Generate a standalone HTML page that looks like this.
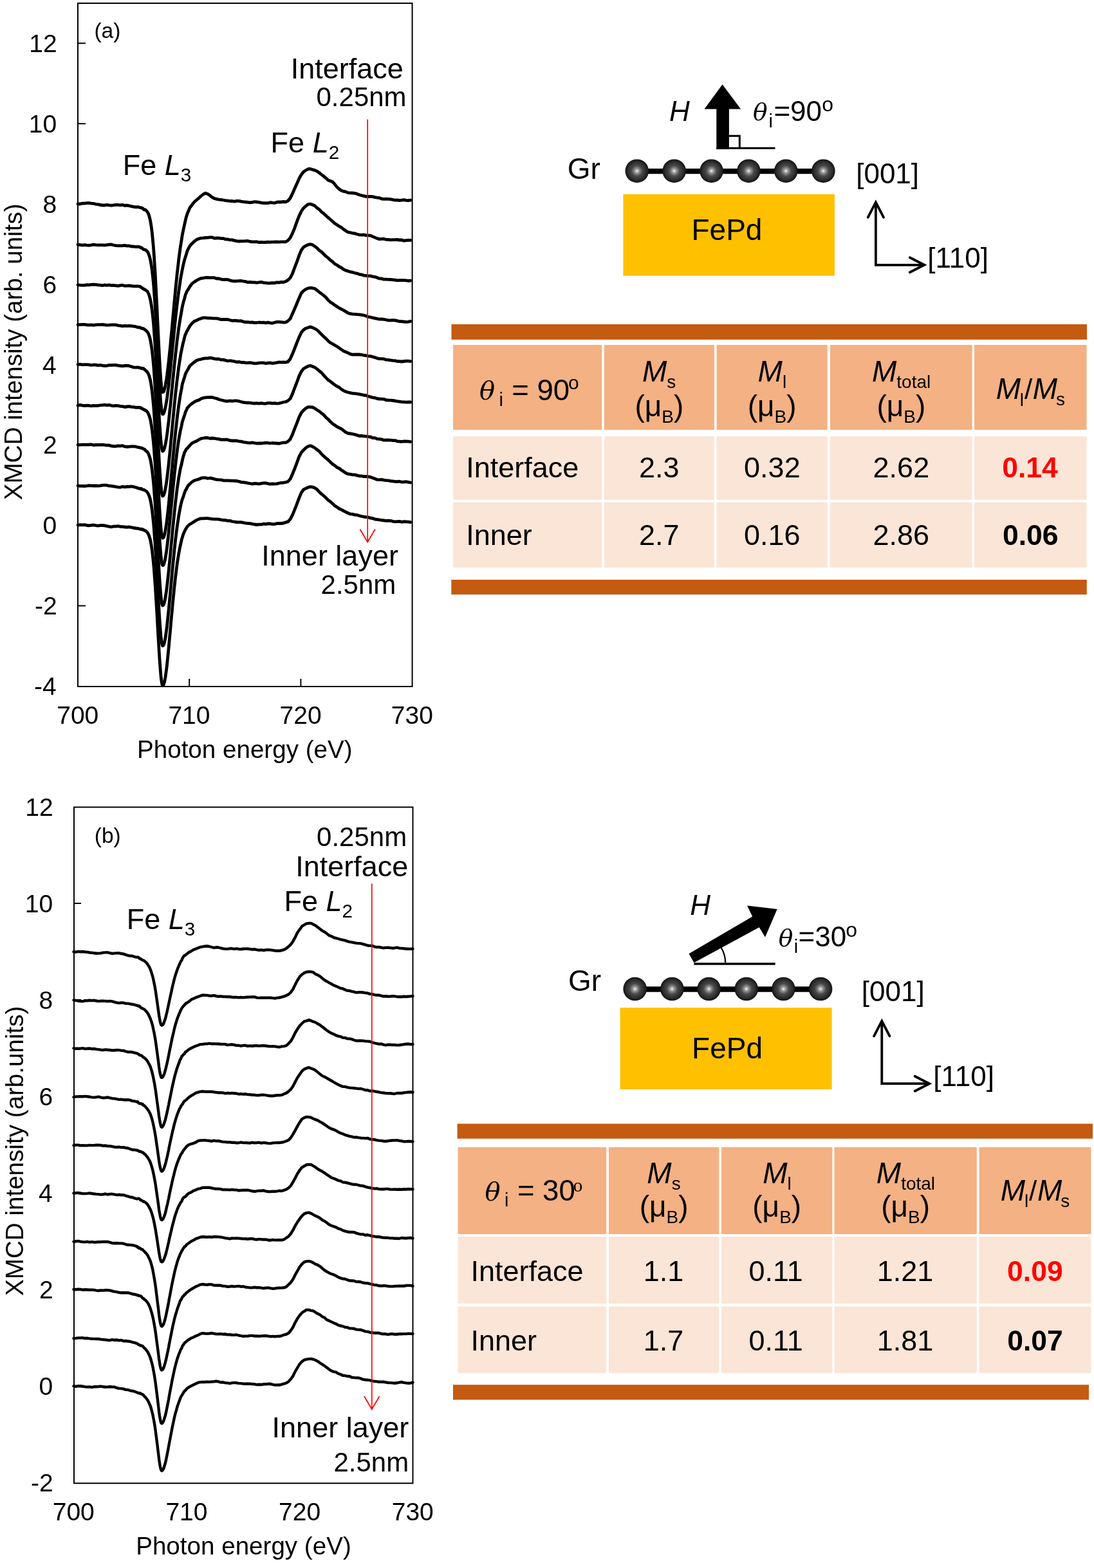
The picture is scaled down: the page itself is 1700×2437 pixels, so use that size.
<!DOCTYPE html><html><head><meta charset="utf-8"><title>XMCD</title><style>html,body{margin:0;padding:0;background:#fff}svg{display:block}</style></head><body>
<svg width="1700" height="2437" viewBox="0 0 1700 2437" font-family="'Liberation Sans', Arial, sans-serif">
<defs><radialGradient id="atom" cx="0.5" cy="0.5" r="0.5"><stop offset="0" stop-color="#f4f4f4"/><stop offset="0.18" stop-color="#9a9a9a"/><stop offset="0.45" stop-color="#4a4a4a"/><stop offset="0.8" stop-color="#2a2a2a"/><stop offset="1" stop-color="#111"/></radialGradient></defs>
<rect width="1700" height="2437" fill="#fff"/>
<g fill="none" stroke="#000" stroke-width="4.8" stroke-linejoin="round" stroke-linecap="round">
<path d="M121,316.9 124.5,317 127.9,316.1 131.4,316.2 134.9,315.6 138.3,315.5 141.8,316.2 145.2,316.3 148.7,317.3 152.2,317.6 155.6,318.5 159.1,319 162.6,319 166,318.3 169.5,318.9 173,319.3 176.4,318.9 179.9,318.3 183.4,318.4 186.8,318.8 190.3,318.4 193.7,319.5 197.2,319.1 200.7,319.8 204.1,320.7 207.6,321.4 211.1,321.9 214.5,321.6 218,322.8 218.9,322.8 219.7,322.8 220.6,323.3 221.5,323.5 222.3,324.5 223.2,325.4 224.1,326 224.9,325.9 225.8,326 226.7,326.8 227.5,327.5 228.4,328.5 229.3,329.8 230.1,331.2 231,333.2 231.8,335.9 232.7,339 233.6,343 234.4,347.6 235.3,353.4 236.2,360.5 237,368.4 237.9,378.1 238.8,388.9 239.6,401 240.5,414.7 241.4,429.5 242.2,445.7 243.1,462.5 244,480.1 244.8,498.1 245.7,516.1 246.6,534 247.4,550.9 248.3,566.5 249.2,580.3 250,591.9 250.9,600.8 251.8,606.6 252.6,609.5 253.5,609.4 254.4,608.4 255.2,606.2 256.1,603.1 257,599 257.8,594.3 258.7,589.1 259.6,583.1 260.4,576.3 261.3,569.2 262.2,561.4 263,553.3 263.9,544.8 264.8,536 265.6,526.6 266.5,517.4 267.4,508.1 268.2,498.6 269.1,488.9 270,479.7 270.8,470.4 271.7,461.2 272.5,452 273.4,443.1 274.3,434.5 275.1,426.5 276,418.6 276.9,411.1 277.7,403.6 278.6,396.5 279.5,390.1 280.3,384 281.2,378.6 282.1,373.2 282.9,367.7 283.8,362.5 284.7,358.2 285.5,354.5 286.4,350.3 287.3,346.5 288.1,342.8 289,338.8 289.9,335.7 290.7,333.2 291.6,330.7 295.1,322.8 298.5,318.2 302,313.8 305.5,310.7 308.9,307.8 312.4,304.8 315.8,302 319.3,300.2 322.8,301.5 326.2,303.7 329.7,306.7 333.2,308.5 336.6,309.4 340.1,310.1 343.6,310.4 347,311 350.5,311.7 354,312 357.4,312.5 360.9,312.5 364.3,313.1 367.8,312.4 371.3,312.4 374.7,313.2 378.2,313.7 381.7,314 385.1,314.3 388.6,314.9 392.1,314.3 395.5,313.7 399,314 402.4,314.3 405.9,315.1 409.4,315.6 412.8,315.6 416.3,315.6 419.8,314.7 423.2,315.1 426.7,315.4 430.2,314.2 433.6,313.8 437.1,314 440.6,313.5 444,313.8 447.5,312.1 450.9,308.1 454.4,301.1 457.9,293 461.3,285.6 464.8,277.5 468.3,271.4 471.7,267.1 475.2,264.8 478.7,262.7 482.1,262.5 485.6,263.6 489.1,264.6 492.5,266.1 496,268.5 499.4,271.2 502.9,273.9 506.4,276.8 509.8,279.9 513.3,281.2 516.8,282.7 520.2,286.4 523.7,290.9 527.2,293.9 530.6,296.2 534.1,297.4 537.5,298.1 541,299.6 544.5,299.9 547.9,300 551.4,300.3 554.9,301.4 558.3,302.7 561.8,303.7 565.3,304.6 568.7,305.4 572.2,305.5 575.7,305.4 579.1,305.6 582.6,306.6 586,307.2 589.5,307.6 593,309 596.4,309.3 599.9,309.2 603.4,309.4 606.8,309.7 610.3,310.3 613.8,311.2 617.2,311 620.7,311.5 624.1,311.2 627.6,310.7 631.1,311.3 634.5,311.7 638,311.2"/>
<path d="M121,380.1 124.5,380.6 127.9,381.1 131.4,380.6 134.9,381.1 138.3,381.3 141.8,380.8 145.2,380.2 148.7,380.7 152.2,380.8 155.6,380.9 159.1,380.8 162.6,381.1 166,380.7 169.5,380.2 173,380 176.4,381 179.9,381.7 183.4,381.9 186.8,381.8 190.3,381.8 193.7,381.3 197.2,382.1 200.7,382.1 204.1,383 207.6,383.1 211.1,383.6 214.5,383.4 218,384.1 218.9,385.2 219.7,385.1 220.6,385.4 221.5,386.3 222.3,387.1 223.2,387.8 224.1,387.9 224.9,388.1 225.8,388.2 226.7,388.9 227.5,389.5 228.4,390.5 229.3,391.3 230.1,392.8 231,394.9 231.8,397.2 232.7,400 233.6,403.5 234.4,408 235.3,413.2 236.2,419.1 237,426.5 237.9,434.8 238.8,444.4 239.6,455.3 240.5,467.7 241.4,481.2 242.2,495.6 243.1,511 244,526.8 244.8,543 245.7,559.4 246.6,575.4 247.4,590.7 248.3,604.9 249.2,617.3 250,627.6 250.9,635.7 251.8,641.2 252.6,643.7 253.5,643.6 254.4,642.2 255.2,640.2 256.1,637.2 257,633.6 257.8,629.3 258.7,624 259.6,618.3 260.4,612.1 261.3,605.3 262.2,597.9 263,590.3 263.9,581.9 264.8,573.5 265.6,565.1 266.5,556.6 267.4,548.1 268.2,539.4 269.1,530.5 270,521.7 270.8,513.3 271.7,504.8 272.5,496.5 273.4,488.4 274.3,480.7 275.1,473.6 276,466.4 276.9,459.5 277.7,453.2 278.6,446.9 279.5,440.8 280.3,435.4 281.2,429.5 282.1,425.2 282.9,420.8 283.8,416.6 284.7,412.3 285.5,408.7 286.4,405 287.3,402.1 288.1,399.6 289,396.7 289.9,393.7 290.7,390.9 291.6,388.6 295.1,382.2 298.5,378.4 302,375.1 305.5,372.5 308.9,371 312.4,370.2 315.8,369.9 319.3,369.5 322.8,369.3 326.2,368.8 329.7,368.9 333.2,370.3 336.6,370 340.1,369.9 343.6,370.7 347,370.6 350.5,371.9 354,372 357.4,372.9 360.9,372.9 364.3,373.9 367.8,374.7 371.3,375 374.7,374.8 378.2,374.8 381.7,374.6 385.1,374.5 388.6,375.5 392.1,375.8 395.5,375.9 399,375.7 402.4,376.6 405.9,376.4 409.4,376.6 412.8,376.5 416.3,376.1 419.8,376.3 423.2,376.1 426.7,376 430.2,375.8 433.6,376.2 437.1,375.9 440.6,375.8 444,375.8 447.5,373.7 450.9,369.7 454.4,362.9 457.9,354.3 461.3,344.6 464.8,335.6 468.3,328.2 471.7,323.4 475.2,320.2 478.7,317.6 482.1,317 485.6,318.2 489.1,319.8 492.5,323.1 496,325.4 499.4,329.1 502.9,331.7 506.4,334.9 509.8,338.2 513.3,341 516.8,344.1 520.2,347.3 523.7,349.4 527.2,351.8 530.6,353.6 534.1,356.5 537.5,358.9 541,360.8 544.5,361.5 547.9,362.3 551.4,362.9 554.9,364 558.3,364.8 561.8,365.1 565.3,364.9 568.7,365.7 572.2,365.8 575.7,366.2 579.1,367.6 582.6,369.1 586,370.5 589.5,371.6 593,371.4 596.4,371.2 599.9,372.3 603.4,372.4 606.8,372.9 610.3,372.7 613.8,372.6 617.2,372.5 620.7,373 624.1,373 627.6,374.1 631.1,373.7 634.5,373.4 638,373.4"/>
<path d="M121,442.8 124.5,443.2 127.9,443.4 131.4,443.4 134.9,442.6 138.3,442.9 141.8,442.3 145.2,442.1 148.7,442.4 152.2,442.8 155.6,443.2 159.1,443.7 162.6,443 166,443.3 169.5,442.9 173,443.7 176.4,443.4 179.9,443.8 183.4,444.4 186.8,443.7 190.3,443.2 193.7,444.3 197.2,444.1 200.7,444 204.1,444.4 207.6,444.9 211.1,444.9 214.5,444.9 218,445.4 218.9,446.5 219.7,446.9 220.6,447.2 221.5,447.8 222.3,449 223.2,449.3 224.1,449.4 224.9,450.1 225.8,450.5 226.7,451.2 227.5,451.7 228.4,452.4 229.3,453.3 230.1,455 231,456.7 231.8,459.1 232.7,462.1 233.6,465.6 234.4,469.9 235.3,475.2 236.2,481 237,488.1 237.9,496.2 238.8,506 239.6,517 240.5,529 241.4,542.1 242.2,556.3 243.1,571 244,586.7 244.8,602.7 245.7,618.6 246.6,634.4 247.4,649.3 248.3,662.9 249.2,675.3 250,685.6 250.9,693.5 251.8,698.8 252.6,701.2 253.5,700.9 254.4,699.5 255.2,697.5 256.1,694.4 257,690.7 257.8,686.4 258.7,681.2 259.6,675 260.4,668.7 261.3,661.6 262.2,654.1 263,646.3 263.9,638.1 264.8,629.8 265.6,621.2 266.5,612.3 267.4,603.5 268.2,594.7 269.1,585.8 270,577.2 270.8,568.7 271.7,560.7 272.5,552.9 273.4,544.9 274.3,537.2 275.1,530 276,523 276.9,516.4 277.7,510.1 278.6,504.2 279.5,498.7 280.3,493.4 281.2,489.2 282.1,483.6 282.9,479.2 283.8,474.4 284.7,471 285.5,467.7 286.4,464.9 287.3,461.6 288.1,458.5 289,456.2 289.9,454 290.7,452.3 291.6,451.1 295.1,445.2 298.5,440.7 302,438.1 305.5,435.9 308.9,434 312.4,432.6 315.8,432.1 319.3,431.5 322.8,431.4 326.2,431.6 329.7,431.6 333.2,431.7 336.6,433 340.1,432.9 343.6,434.1 347,434.6 350.5,434.4 354,434.6 357.4,435.8 360.9,436.6 364.3,437 367.8,436.9 371.3,436.7 374.7,436.5 378.2,437.1 381.7,437.6 385.1,438.7 388.6,438.5 392.1,438.9 395.5,438.9 399,439.3 402.4,438.8 405.9,438.4 409.4,439.3 412.8,439.7 416.3,440.1 419.8,440 423.2,439.7 426.7,439.9 430.2,438.8 433.6,439.1 437.1,438.3 440.6,438.6 444,437.4 447.5,435.4 450.9,431.9 454.4,425.4 457.9,415.8 461.3,407.2 464.8,396.9 468.3,388.7 471.7,384.1 475.2,382 478.7,380.4 482.1,379.7 485.6,380.4 489.1,382.9 492.5,385.4 496,389 499.4,391.3 502.9,394.8 506.4,398.2 509.8,400.8 513.3,404.2 516.8,406.8 520.2,410.1 523.7,412 527.2,414.5 530.6,416.2 534.1,418.8 537.5,420.4 541,421.4 544.5,422.6 547.9,423.2 551.4,424.2 554.9,425.1 558.3,426.3 561.8,426.8 565.3,428.1 568.7,428.4 572.2,428.8 575.7,428.9 579.1,429.9 582.6,430.3 586,431.6 589.5,432.9 593,433 596.4,434.2 599.9,434.2 603.4,434.4 606.8,434.5 610.3,434.8 613.8,435.2 617.2,435.9 620.7,435.6 624.1,435.6 627.6,435.7 631.1,435.9 634.5,436.5 638,436.2"/>
<path d="M121,504.7 124.5,504.7 127.9,504.3 131.4,504.3 134.9,505 138.3,505.1 141.8,504.8 145.2,505.4 148.7,504.9 152.2,504.6 155.6,504.6 159.1,504.5 162.6,504.9 166,505.4 169.5,505.2 173,504.8 176.4,504.9 179.9,504.9 183.4,505.8 186.8,506.1 190.3,506.8 193.7,506.4 197.2,506.6 200.7,506.3 204.1,506.6 207.6,507.2 211.1,507.7 214.5,508.8 218,509 218.9,509.8 219.7,510.4 220.6,510.5 221.5,510.2 222.3,510.9 223.2,510.8 224.1,511.6 224.9,512.6 225.8,512.7 226.7,513.6 227.5,514.4 228.4,515.2 229.3,516.3 230.1,517.5 231,519.5 231.8,521.8 232.7,524.6 233.6,528.4 234.4,532.7 235.3,538.1 236.2,544.2 237,551.4 237.9,560 238.8,569.9 239.6,581.2 240.5,593.5 241.4,606.8 242.2,621.6 243.1,636.8 244,653.1 244.8,669.6 245.7,686 246.6,702 247.4,717.5 248.3,731.7 249.2,744.4 250,754.9 250.9,763.1 251.8,768.4 252.6,771 253.5,770.7 254.4,769.6 255.2,767.1 256.1,764 257,759.7 257.8,755.1 258.7,749.5 259.6,743.2 260.4,736 261.3,728.6 262.2,720.7 263,712.3 263.9,703.8 264.8,694.8 265.6,685.6 266.5,676.4 267.4,667 268.2,658 269.1,648.9 270,639.7 270.8,630.8 271.7,622.3 272.5,614.1 273.4,606.1 274.3,598.4 275.1,591 276,584.1 276.9,577.3 277.7,570.8 278.6,564.9 279.5,559.3 280.3,554 281.2,548.4 282.1,544.6 282.9,540.4 283.8,536.4 284.7,532.4 285.5,529.6 286.4,525.7 287.3,522.4 288.1,519.8 289,518.2 289.9,515.9 290.7,514.5 291.6,512.8 295.1,506.5 298.5,502.5 302,499.3 305.5,497.9 308.9,496.2 312.4,494.9 315.8,493.9 319.3,493.9 322.8,494.4 326.2,494.4 329.7,494.7 333.2,494.8 336.6,494.9 340.1,495.6 343.6,496.7 347,496.5 350.5,496.4 354,496.5 357.4,497.5 360.9,498.5 364.3,498.1 367.8,498.5 371.3,498.9 374.7,498.7 378.2,500.1 381.7,500.7 385.1,500.6 388.6,501.2 392.1,500.9 395.5,501.7 399,501.5 402.4,501 405.9,501.3 409.4,501.2 412.8,501.8 416.3,501.2 419.8,501.8 423.2,502.3 426.7,501.3 430.2,500.4 433.6,500.4 437.1,500.7 440.6,501.1 444,500.9 447.5,498.9 450.9,495.5 454.4,487.8 457.9,479.7 461.3,471.8 464.8,463.2 468.3,455.5 471.7,451.9 475.2,449.6 478.7,448 482.1,447.4 485.6,447.7 489.1,448.6 492.5,450.9 496,454 499.4,456.4 502.9,459.2 506.4,462.1 509.8,466.2 513.3,469.6 516.8,471.7 520.2,474.2 523.7,476.6 527.2,478.8 530.6,480.5 534.1,482.4 537.5,484.4 541,486.6 544.5,487.7 547.9,488.1 551.4,488.3 554.9,488.6 558.3,488.8 561.8,489.4 565.3,490 568.7,491 572.2,492.4 575.7,493 579.1,493.8 582.6,494.6 586,495.3 589.5,496.2 593,496 596.4,496.3 599.9,497 603.4,497.8 606.8,497.8 610.3,497.6 613.8,497.9 617.2,498.7 620.7,499.5 624.1,499.6 627.6,500 631.1,500.3 634.5,500.1 638,499.4"/>
<path d="M121,566.4 124.5,566.2 127.9,566.8 131.4,566.7 134.9,566.6 138.3,566.9 141.8,567.5 145.2,567 148.7,567.1 152.2,567.8 155.6,567.4 159.1,568.1 162.6,568.6 166,568.3 169.5,567.7 173,567.6 176.4,567.4 179.9,567.3 183.4,568.1 186.8,568.5 190.3,568.8 193.7,568.5 197.2,568.2 200.7,568.7 204.1,569.8 207.6,570.9 211.1,571.2 214.5,571 218,571.9 218.9,572.2 219.7,572.1 220.6,572.8 221.5,572.5 222.3,572.6 223.2,572.9 224.1,574 224.9,574.3 225.8,575.4 226.7,576.1 227.5,576.8 228.4,577.7 229.3,579 230.1,580.2 231,582 231.8,584.2 232.7,587.4 233.6,590.9 234.4,595.4 235.3,600.8 236.2,607.1 237,614.5 237.9,623.4 238.8,633.4 239.6,644.7 240.5,657.3 241.4,671 242.2,685.6 243.1,700.9 244,717.1 244.8,733.7 245.7,750.4 246.6,766.8 247.4,782.4 248.3,797 249.2,809.5 250,820.4 250.9,828.4 251.8,834 252.6,836.3 253.5,836 254.4,834.9 255.2,832.4 256.1,829 257,824.6 257.8,819.5 258.7,813.6 259.6,806.7 260.4,799.6 261.3,791.6 262.2,783.2 263,774.4 263.9,765.2 264.8,756.1 265.6,746.5 266.5,737 267.4,727.4 268.2,717.9 269.1,708.8 270,699.5 270.8,690.5 271.7,682 272.5,673.7 273.4,665.8 274.3,658.2 275.1,650.8 276,643.4 276.9,636.6 277.7,630.4 278.6,624.2 279.5,618.8 280.3,613.5 281.2,608.9 282.1,604.4 282.9,599.5 283.8,595.2 284.7,592.7 285.5,589.9 286.4,587.5 287.3,584.1 288.1,581.5 289,579.6 289.9,577.8 290.7,576.1 291.6,574.9 295.1,568.5 298.5,565.6 302,562.7 305.5,560.2 308.9,559 312.4,558.3 315.8,557.4 319.3,556.8 322.8,556.9 326.2,556.2 329.7,556.6 333.2,557.6 336.6,558 340.1,558 343.6,559.2 347,559.1 350.5,560.1 354,561 357.4,560.5 360.9,561.2 364.3,561.7 367.8,562.6 371.3,562.3 374.7,563.3 378.2,563.1 381.7,563.8 385.1,563.8 388.6,563.6 392.1,564.2 395.5,564.9 399,564.7 402.4,564.1 405.9,563.8 409.4,563.9 412.8,564.8 416.3,564.1 419.8,563.9 423.2,564.6 426.7,564.2 430.2,563.6 433.6,562.8 437.1,563.2 440.6,563 444,563.2 447.5,562.1 450.9,558.1 454.4,550.3 457.9,541.5 461.3,532.6 464.8,524.2 468.3,516.6 471.7,512.7 475.2,510.2 478.7,509.3 482.1,508 485.6,509.1 489.1,510.8 492.5,512.8 496,516 499.4,519.6 502.9,522.9 506.4,526.1 509.8,529.7 513.3,532.7 516.8,534.4 520.2,536.6 523.7,538.5 527.2,541 530.6,543.4 534.1,545.8 537.5,547 541,548.7 544.5,550.4 547.9,551.2 551.4,551 554.9,551 558.3,551 561.8,551.3 565.3,552.2 568.7,552.5 572.2,553.3 575.7,553.6 579.1,554.5 582.6,555.6 586,556.8 589.5,557.6 593,557.6 596.4,557.8 599.9,559.2 603.4,559.3 606.8,559.9 610.3,560.4 613.8,560.6 617.2,561.5 620.7,561.7 624.1,562 627.6,561.5 631.1,561.1 634.5,561.2 638,561.6"/>
<path d="M121,630.2 124.5,629.4 127.9,630.2 131.4,630.6 134.9,630.1 138.3,630.4 141.8,631 145.2,630.3 148.7,630.7 152.2,630.5 155.6,629.8 159.1,629.6 162.6,629.1 166,629.8 169.5,629.3 173,630.3 176.4,630.8 179.9,630.3 183.4,630.7 186.8,631.4 190.3,631.6 193.7,632.5 197.2,632 200.7,631.6 204.1,632.4 207.6,632.6 211.1,633.3 214.5,633.1 218,633.3 218.9,634.4 219.7,634.1 220.6,634.9 221.5,635.2 222.3,636.2 223.2,636.3 224.1,636.6 224.9,637.6 225.8,637.5 226.7,638.1 227.5,638.6 228.4,639.6 229.3,640.8 230.1,642.1 231,643.8 231.8,646.1 232.7,648.8 233.6,651.9 234.4,656.1 235.3,661.2 236.2,667.3 237,674.3 237.9,682.3 238.8,691.5 239.6,701.8 240.5,713.3 241.4,725.7 242.2,739.4 243.1,753.9 244,769 244.8,784.3 245.7,799.6 246.6,814.6 247.4,828.8 248.3,842.1 249.2,853.7 250,863.5 250.9,871.3 251.8,876.5 252.6,878.6 253.5,878.7 254.4,877.3 255.2,874.9 256.1,871.7 257,867.5 257.8,862.3 258.7,856.4 259.6,849.9 260.4,842.8 261.3,835.1 262.2,826.9 263,818.7 263.9,809.9 264.8,801 265.6,792 266.5,783 267.4,774.3 268.2,765.3 269.1,756.6 270,747.9 270.8,739.7 271.7,731.7 272.5,723.8 273.4,716.2 274.3,708.9 275.1,701.9 276,695.4 276.9,689.2 277.7,683.8 278.6,678.5 279.5,673.7 280.3,669.1 281.2,665.9 282.1,661.8 282.9,657.4 283.8,654 284.7,651.3 285.5,648.9 286.4,646.3 287.3,643.7 288.1,640.7 289,638.5 289.9,637.2 290.7,634.7 291.6,633.7 295.1,629.7 298.5,627.1 302,624.7 305.5,622.9 308.9,621.9 312.4,619.7 315.8,618.4 319.3,617.8 322.8,617.6 326.2,617.4 329.7,617.5 333.2,618.5 336.6,619.3 340.1,620.8 343.6,621.7 347,622.5 350.5,623.3 354,623.5 357.4,622.9 360.9,623.3 364.3,622.9 367.8,622.8 371.3,623.5 374.7,624.5 378.2,625.4 381.7,625.8 385.1,626 388.6,626.2 392.1,626.7 395.5,627 399,626.7 402.4,627.2 405.9,626.7 409.4,627.2 412.8,627.3 416.3,626.4 419.8,626.4 423.2,626.9 426.7,626.6 430.2,627.1 433.6,626.8 437.1,626 440.6,625 444,624.5 447.5,622.8 450.9,619.7 454.4,612.4 457.9,602.8 461.3,594.2 464.8,584.4 468.3,577.4 471.7,573 475.2,571 478.7,569.2 482.1,568.4 485.6,569.5 489.1,570.9 492.5,573.4 496,576.3 499.4,579 502.9,583.1 506.4,586.9 509.8,590.4 513.3,592.8 516.8,595.5 520.2,598.3 523.7,600.4 527.2,602.2 530.6,605 534.1,607.3 537.5,608.7 541,609.7 544.5,610.6 547.9,611.3 551.4,611.7 554.9,612.2 558.3,612.7 561.8,613.3 565.3,614.2 568.7,614.5 572.2,616 575.7,616.9 579.1,617.9 582.6,618.3 586,619.5 589.5,620 593,620.1 596.4,620.3 599.9,621.8 603.4,622 606.8,622.1 610.3,622.5 613.8,623 617.2,623.7 620.7,624.2 624.1,624.6 627.6,624.8 631.1,625.1 634.5,625 638,625"/>
<path d="M121,691.5 124.5,691.4 127.9,691.2 131.4,691.2 134.9,691.1 138.3,691 141.8,690.8 145.2,691.8 148.7,691.5 152.2,691.3 155.6,691.4 159.1,691.2 162.6,691.7 166,692.2 169.5,692 173,693.1 176.4,693.5 179.9,693.6 183.4,692.9 186.8,693.1 190.3,692.7 193.7,693.9 197.2,694.5 200.7,694.2 204.1,693.8 207.6,693.9 211.1,694.2 214.5,695.2 218,695.9 218.9,696.1 219.7,696.1 220.6,696.3 221.5,696.9 222.3,697.4 223.2,697.8 224.1,698 224.9,698.5 225.8,700 226.7,700.6 227.5,701.1 228.4,701.8 229.3,703 230.1,704.3 231,705.9 231.8,708.2 232.7,710.8 233.6,714.1 234.4,718.3 235.3,723.4 236.2,729.3 237,736.2 237.9,744.1 238.8,753.5 239.6,764 240.5,775.4 241.4,788.1 242.2,801.7 243.1,816 244,831 244.8,846.6 245.7,861.8 246.6,877.2 247.4,891.4 248.3,904.7 249.2,916.7 250,926.6 250.9,934.2 251.8,939 252.6,941.1 253.5,940.8 254.4,939.3 255.2,937.1 256.1,933.5 257,929.1 257.8,923.7 258.7,917.7 259.6,910.7 260.4,903.2 261.3,895.3 262.2,886.9 263,878.5 263.9,869.7 264.8,860.4 265.6,851.1 266.5,841.9 267.4,832.9 268.2,824 269.1,815 270,806.4 270.8,797.9 271.7,789.9 272.5,781.9 273.4,774.5 274.3,767.4 275.1,760.5 276,754.1 276.9,748.4 277.7,742.8 278.6,737.7 279.5,732.7 280.3,728.3 281.2,724.8 282.1,721.5 282.9,717.6 283.8,713.4 284.7,709.9 285.5,707.2 286.4,704.4 287.3,701.9 288.1,701.1 289,698.8 289.9,697.7 290.7,697.1 291.6,696.2 295.1,692.2 298.5,688.7 302,687 305.5,685.6 308.9,683.4 312.4,681.7 315.8,681 319.3,680.3 322.8,680.5 326.2,681.3 329.7,681 333.2,681.4 336.6,682 340.1,682.4 343.6,683.4 347,683.4 350.5,683.2 354,683.4 357.4,684.7 360.9,685 364.3,684.9 367.8,685 371.3,685.9 374.7,686.1 378.2,687.1 381.7,687.7 385.1,688.2 388.6,688.3 392.1,687.9 395.5,688.5 399,689.2 402.4,688.9 405.9,689 409.4,688.6 412.8,688.1 416.3,688.4 419.8,689 423.2,688.5 426.7,688.8 430.2,689 433.6,689.3 437.1,688.5 440.6,687.8 444,687.8 447.5,686.1 450.9,682.7 454.4,675.4 457.9,666.1 461.3,657.7 464.8,648.3 468.3,641.4 471.7,637.6 475.2,634.7 478.7,632.7 482.1,632.6 485.6,633 489.1,634.6 492.5,637 496,639.2 499.4,642 502.9,644.6 506.4,648.6 509.8,651.5 513.3,655.3 516.8,658.6 520.2,660.8 523.7,663.2 527.2,665 530.6,666.6 534.1,669.4 537.5,672 541,673.5 544.5,674 547.9,674.5 551.4,675.3 554.9,676.4 558.3,677.5 561.8,677.5 565.3,677.8 568.7,678.1 572.2,678.6 575.7,679 579.1,680.6 582.6,680.6 586,682.1 589.5,682.4 593,682.8 596.4,684.2 599.9,684 603.4,683.9 606.8,684.2 610.3,684.5 613.8,684.6 617.2,685.8 620.7,686.1 624.1,686.5 627.6,685.9 631.1,686 634.5,686.2 638,686.6"/>
<path d="M121,754.9 124.5,755.4 127.9,755.3 131.4,755.5 134.9,755.2 138.3,754.7 141.8,754.8 145.2,755 148.7,754.9 152.2,755.2 155.6,754.8 159.1,754.2 162.6,754.2 166,754.2 169.5,755.2 173,755.4 176.4,755.8 179.9,756.5 183.4,757.1 186.8,757.3 190.3,756.4 193.7,756.9 197.2,756.5 200.7,756.3 204.1,756 207.6,756.7 211.1,757.5 214.5,758.6 218,759.8 218.9,759.5 219.7,759.3 220.6,760.4 221.5,760.7 222.3,761.1 223.2,761.3 224.1,761.4 224.9,762 225.8,762.5 226.7,763 227.5,763.5 228.4,764.5 229.3,765.8 230.1,767 231,768.8 231.8,770.9 232.7,773.5 233.6,776.7 234.4,780.9 235.3,785.9 236.2,791.8 237,798.8 237.9,806.7 238.8,816.1 239.6,826.5 240.5,838.1 241.4,850.6 242.2,864 243.1,878.6 244,893.5 244.8,909 245.7,924.4 246.6,939.4 247.4,954 248.3,967.4 249.2,978.9 250,988.7 250.9,996.3 251.8,1001.3 252.6,1003.8 253.5,1003.5 254.4,1002.2 255.2,999.7 256.1,996 257,991.3 257.8,985.5 258.7,979.2 259.6,972.2 260.4,964.3 261.3,955.8 262.2,947.2 263,938.4 263.9,929.1 264.8,919.7 265.6,910.2 266.5,900.9 267.4,891.3 268.2,882.3 269.1,873.4 270,864.8 270.8,856.1 271.7,848.1 272.5,840.2 273.4,832.7 274.3,825.9 275.1,819.4 276,813.3 276.9,807.5 277.7,802 278.6,796.7 279.5,792.1 280.3,787.7 281.2,783.8 282.1,780.1 282.9,777 283.8,774.7 284.7,772.3 285.5,769.9 286.4,766.9 287.3,764.5 288.1,762.3 289,761.1 289.9,759.5 290.7,757.7 291.6,755.9 295.1,751.8 298.5,749 302,746.7 305.5,745.8 308.9,744.8 312.4,743.2 315.8,742.6 319.3,742.7 322.8,743.5 326.2,743 329.7,743.5 333.2,744.6 336.6,745.3 340.1,745.7 343.6,745.8 347,746.8 350.5,746.9 354,746.8 357.4,747.1 360.9,747.1 364.3,747.3 367.8,747.5 371.3,748.3 374.7,749.4 378.2,749.7 381.7,750.2 385.1,750.9 388.6,751.5 392.1,752.1 395.5,751.3 399,751.6 402.4,752.2 405.9,751.4 409.4,750.9 412.8,750.7 416.3,751.6 419.8,752.3 423.2,751.9 426.7,752.2 430.2,751.9 433.6,751 437.1,750.4 440.6,750.1 444,749.5 447.5,748.5 450.9,744.7 454.4,737 457.9,728.4 461.3,719.4 464.8,709.8 468.3,703.1 471.7,699.5 475.2,696.1 478.7,693.8 482.1,692.8 485.6,694.1 489.1,696 492.5,698.8 496,701.4 499.4,705.3 502.9,708.9 506.4,711.8 509.8,714.6 513.3,718 516.8,721.4 520.2,723.5 523.7,726.5 527.2,728 530.6,730.7 534.1,732.9 537.5,735.2 541,736.7 544.5,737.1 547.9,737.8 551.4,737.9 554.9,738.9 558.3,739.8 561.8,739.8 565.3,740.6 568.7,740.5 572.2,740.9 575.7,741.4 579.1,742.7 582.6,744.1 586,745.4 589.5,745.6 593,745.4 596.4,746.2 599.9,746.7 603.4,746.8 606.8,747.7 610.3,747.8 613.8,748.5 617.2,748.6 620.7,748.2 624.1,749.2 627.6,749.2 631.1,748.7 634.5,749.3 638,750"/>
<path d="M121,816.1 124.5,815.7 127.9,815.9 131.4,815.6 134.9,816.5 138.3,816.8 141.8,816.3 145.2,816 148.7,816.7 152.2,817.1 155.6,816.7 159.1,816.5 162.6,816.9 166,817.7 169.5,818.3 173,819 176.4,818.2 179.9,818.1 183.4,817.6 186.8,818.5 190.3,818.6 193.7,819 197.2,819.3 200.7,819 204.1,819.7 207.6,820.5 211.1,821 214.5,821.3 218,822.6 218.9,822.2 219.7,822.6 220.6,822.4 221.5,822.6 222.3,823.6 223.2,823.5 224.1,824.4 224.9,824.4 225.8,824.8 226.7,825.2 227.5,826.2 228.4,827 229.3,828.1 230.1,829.4 231,831.3 231.8,833.2 232.7,836.1 233.6,839.3 234.4,843.6 235.3,848.4 236.2,854.3 237,861.3 237.9,869.4 238.8,878.6 239.6,888.9 240.5,900.4 241.4,913 242.2,926.3 243.1,940.7 244,955.6 244.8,970.8 245.7,986.3 246.6,1001.6 247.4,1015.8 248.3,1029 249.2,1040.6 250,1050.5 250.9,1058.1 251.8,1063.4 252.6,1065.7 253.5,1065.3 254.4,1063.7 255.2,1061.1 256.1,1057.1 257,1052.4 257.8,1046.6 258.7,1039.8 259.6,1032.4 260.4,1024 261.3,1015.4 262.2,1006.3 263,996.8 263.9,987.2 264.8,977.6 265.6,968 266.5,958.4 267.4,949.2 268.2,939.9 269.1,930.8 270,922 270.8,913.4 271.7,905.6 272.5,898.1 273.4,890.7 274.3,883.7 275.1,877.2 276,871.4 276.9,865.9 277.7,860.7 278.6,855.7 279.5,851.3 280.3,847.4 281.2,843.4 282.1,839.4 282.9,836.5 283.8,833.6 284.7,830.5 285.5,828.9 286.4,826.5 287.3,824.8 288.1,823.1 289,821.7 289.9,820.3 290.7,818.9 291.6,817.7 295.1,814.7 298.5,812.7 302,810.4 305.5,808.4 308.9,806.9 312.4,805.8 315.8,805.9 319.3,805.7 322.8,805.7 326.2,806.2 329.7,806.6 333.2,806.9 336.6,806.8 340.1,807.2 343.6,807.9 347,808.4 350.5,808.5 354,809.3 357.4,809.4 360.9,810.5 364.3,811 367.8,811.5 371.3,811.7 374.7,811.7 378.2,812.3 381.7,813.2 385.1,813.3 388.6,813.7 392.1,814.4 395.5,815 399,815.5 402.4,815.2 405.9,815.2 409.4,814.2 412.8,814.6 416.3,813.8 419.8,814 423.2,814.6 426.7,814.7 430.2,813.5 433.6,813.5 437.1,813.5 440.6,813 444,811.9 447.5,810.8 450.9,807 454.4,800.6 457.9,792.1 461.3,783.4 464.8,773.9 468.3,765.7 471.7,760.9 475.2,759.2 478.7,757.5 482.1,756.6 485.6,756.9 489.1,758.3 492.5,760.6 496,764.4 499.4,767.7 502.9,770.5 506.4,773.6 509.8,777.1 513.3,779.6 516.8,782.7 520.2,786.2 523.7,788.1 527.2,790.7 530.6,792.1 534.1,794.1 537.5,795.8 541,797.5 544.5,798.9 547.9,799.1 551.4,800.2 554.9,800.4 558.3,801.6 561.8,802.5 565.3,803.2 568.7,803.7 572.2,803.9 575.7,805.2 579.1,805.6 582.6,807 586,807.3 589.5,807.9 593,808.5 596.4,808.9 599.9,809.3 603.4,809.1 606.8,809.3 610.3,810.3 613.8,810.8 617.2,810.6 620.7,810.4 624.1,811.3 627.6,810.7 631.1,810.8 634.5,811.1 638,811.7"/>
</g>
<rect x="121" y="5" width="519.6" height="1062" fill="none" stroke="#000" stroke-width="2"/>
<path d="M121,67.3h12M121,192.2h12M121,317.1h12M121,442h12M121,566.9h12M121,691.8h12M121,816.7h12M121,941.6h12M294.2,1067v-12M467.4,1067v-12" stroke="#000" stroke-width="2" fill="none"/>
<text x="45.2" y="80.9" font-size="39" fill="#000">12</text>
<text x="44.7" y="205.8" font-size="39" fill="#000">10</text>
<text x="66.6" y="330.7" font-size="39" fill="#000">8</text>
<text x="66.6" y="455.6" font-size="39" fill="#000">6</text>
<text x="66.1" y="580.5" font-size="39" fill="#000">4</text>
<text x="66.9" y="705.4" font-size="39" fill="#000">2</text>
<text x="66.4" y="830.3" font-size="39" fill="#000">0</text>
<text x="53.9" y="955.2" font-size="39" fill="#000">-2</text>
<text x="53.1" y="1080.1" font-size="39" fill="#000">-4</text>
<text x="88.2" y="1124.8" font-size="39" fill="#000">700</text>
<text x="261.4" y="1124.8" font-size="39" fill="#000">710</text>
<text x="434.6" y="1124.8" font-size="39" fill="#000">720</text>
<text x="607.8" y="1124.8" font-size="39" fill="#000">730</text>
<text x="213" y="1178" font-size="38.6" fill="#000">Photon energy (eV)</text>
<text transform="translate(34.4,547.5) rotate(-90)" x="-229.8" y="0" font-size="38.6">XMCD intensity (arb. units)</text>
<path d="M571.2,185.6V842.5 M559.4,822.5L571.2,842.5L583,822.5" stroke="#f00" stroke-width="1.7" fill="none"/>
<text x="146.4" y="58.5" font-size="33.5" fill="#000">(a)</text>
<text x="451.7" y="121.6" font-size="45" fill="#000">Interface</text>
<text x="491.5" y="165" font-size="42" fill="#000">0.25nm</text>
<text x="406.3" y="879.3" font-size="45" fill="#000">Inner layer</text>
<text x="498.6" y="922.8" font-size="42" fill="#000">2.5nm</text>
<text x="190.8" y="272" font-size="45">Fe <tspan font-style="italic">L</tspan><tspan font-size="29.7" dy="9.9">3</tspan></text>
<text x="420.6" y="237.2" font-size="45">Fe <tspan font-style="italic">L</tspan><tspan font-size="29.7" dy="9.9">2</tspan></text>
<g fill="none" stroke="#000" stroke-width="4.4" stroke-linejoin="round" stroke-linecap="round">
<path d="M114.5,1479.2 118,1479.6 121.5,1478.9 125,1479.3 128.6,1479 132.1,1479.5 135.6,1479.7 139.1,1480.5 142.6,1480.7 146.1,1481.3 149.6,1481.7 153.1,1481.6 156.7,1481.4 160.2,1480.6 163.7,1480.4 167.2,1480.3 170.7,1481.1 174.2,1482 177.7,1481.6 181.3,1481.4 184.8,1481.3 188.3,1482 191.8,1482.6 195.3,1483.9 198.8,1485 202.3,1485.6 205.8,1485.8 209.4,1487.2 212.9,1487.9 213.8,1487.7 214.6,1487.6 215.5,1488.1 216.4,1489.2 217.3,1490.1 218.1,1489.9 219,1490.5 219.9,1491.3 220.8,1491.9 221.7,1492.1 222.5,1492.6 223.4,1492.9 224.3,1493.4 225.2,1494.2 226.1,1494.9 226.9,1495.6 227.8,1496.6 228.7,1497.8 229.6,1499.1 230.4,1500.4 231.3,1501.7 232.2,1503.4 233.1,1505.3 234,1507.5 234.8,1509.7 235.7,1512.6 236.6,1515.5 237.5,1518.6 238.3,1522.4 239.2,1526.4 240.1,1530.8 241,1535.6 241.9,1541.2 242.7,1546.9 243.6,1553 244.5,1559.3 245.4,1565.9 246.3,1572.1 247.1,1577.9 248,1583.3 248.9,1588.1 249.8,1591.4 250.6,1593.2 251.5,1593.7 252.4,1593.2 253.3,1592.2 254.2,1590.8 255,1588.5 255.9,1586.1 256.8,1583.3 257.7,1580.3 258.5,1576.8 259.4,1573.2 260.3,1569.1 261.2,1565.1 262.1,1560.8 262.9,1556.9 263.8,1552.6 264.7,1548.6 265.6,1544.4 266.5,1540.5 267.3,1536.5 268.2,1532.5 269.1,1529 270,1525.4 270.8,1522 271.7,1518.5 272.6,1515.7 273.5,1512.9 274.4,1510.2 275.2,1507.7 276.1,1505.4 277,1503.2 277.9,1501 278.8,1499 279.6,1497.2 280.5,1495 281.4,1493.7 282.3,1492.6 283.1,1490.4 284,1488.5 284.9,1487.1 285.8,1485.9 286.7,1485.1 287.5,1484.9 288.4,1484.2 289.3,1483.2 290.2,1482.7 293.7,1479.9 297.2,1478.2 300.7,1476.1 304.2,1474.7 307.7,1473.4 311.3,1472 314.8,1471.4 318.3,1470.7 321.8,1470.5 325.3,1471 328.8,1472 332.3,1473 335.8,1472.3 339.4,1472.5 342.9,1473.5 346.4,1474.3 349.9,1474.9 353.4,1474.9 356.9,1474.3 360.4,1474.3 364,1474.9 367.5,1474.4 371,1475 374.5,1475.3 378,1474.8 381.5,1474.6 385,1474.5 388.5,1475.1 392.1,1475.7 395.6,1475.3 399.1,1476.2 402.6,1476.8 406.1,1476.4 409.6,1477 413.1,1476.4 416.7,1476.1 420.2,1476.4 423.7,1476.9 427.2,1477.5 430.7,1477.7 434.2,1477.8 437.7,1477 441.2,1476.1 444.8,1474 448.3,1471.3 451.8,1467.9 455.3,1462.9 458.8,1456.6 462.3,1449.3 465.8,1444.5 469.4,1439.4 472.9,1437.3 476.4,1435.4 479.9,1435 483.4,1434.9 486.9,1436.8 490.4,1438.6 493.9,1441.3 497.5,1444 501,1446.8 504.5,1448.4 508,1451.1 511.5,1454 515,1455.1 518.5,1457.2 522.1,1458 525.6,1459 529.1,1460.1 532.6,1460.8 536.1,1461.6 539.6,1462.9 543.1,1463.8 546.6,1464.4 550.2,1465.1 553.7,1465.9 557.2,1466.1 560.7,1466.4 564.2,1467.3 567.7,1468.3 571.2,1469.5 574.8,1469.9 578.3,1469.8 581.8,1471.3 585.3,1472.1 588.8,1472 592.3,1472.6 595.8,1473.3 599.3,1472.9 602.9,1472.7 606.4,1473.1 609.9,1473.7 613.4,1473.2 616.9,1472.6 620.4,1473.6 623.9,1473.9 627.5,1474.2 631,1474.6 634.5,1474.8 638,1474.9 641.5,1474.6"/>
<path d="M114.5,1554.4 118,1554.9 121.5,1555.6 125,1556.1 128.6,1556.3 132.1,1555.2 135.6,1555.2 139.1,1554.8 142.6,1555.1 146.1,1554.8 149.6,1555.5 153.1,1556.1 156.7,1555.8 160.2,1555.8 163.7,1555.9 167.2,1556.2 170.7,1555.9 174.2,1556.4 177.7,1557.4 181.3,1558.4 184.8,1558.9 188.3,1558.5 191.8,1558.6 195.3,1559.6 198.8,1559.6 202.3,1560.3 205.8,1561 209.4,1561.7 212.9,1562.8 213.8,1562.6 214.6,1563.7 215.5,1563.8 216.4,1563.5 217.3,1564.3 218.1,1565.2 219,1566.2 219.9,1566.8 220.8,1567.1 221.7,1567.6 222.5,1567.9 223.4,1568.4 224.3,1568.9 225.2,1569.9 226.1,1570.6 226.9,1571.6 227.8,1572.6 228.7,1573.6 229.6,1574.9 230.4,1576.4 231.3,1578.1 232.2,1579.9 233.1,1581.8 234,1584 234.8,1586.4 235.7,1589 236.6,1592.2 237.5,1595.6 238.3,1599.6 239.2,1603.7 240.1,1608.4 241,1613.5 241.9,1619 242.7,1625 243.6,1631.5 244.5,1638.1 245.4,1644.7 246.3,1651.5 247.1,1658.1 248,1664.1 248.9,1668.9 249.8,1672.3 250.6,1674.5 251.5,1674.7 252.4,1674.3 253.3,1673.3 254.2,1671.5 255,1669.5 255.9,1666.9 256.8,1663.7 257.7,1660.5 258.5,1656.9 259.4,1653.2 260.3,1649.2 261.2,1644.9 262.1,1640.4 262.9,1636.2 263.8,1631.7 264.7,1627.5 265.6,1623 266.5,1618.5 267.3,1614.6 268.2,1610.7 269.1,1607 270,1603.2 270.8,1599.5 271.7,1595.9 272.6,1592.5 273.5,1589.8 274.4,1586.7 275.2,1583.9 276.1,1581.6 277,1579.3 277.9,1577.1 278.8,1574.9 279.6,1573.1 280.5,1570.8 281.4,1569.1 282.3,1567.5 283.1,1566 284,1565.2 284.9,1563.5 285.8,1563.1 286.7,1561.6 287.5,1561.4 288.4,1560 289.3,1558.9 290.2,1558.8 293.7,1556.6 297.2,1553.6 300.7,1552 304.2,1550.4 307.7,1549.2 311.3,1547.8 314.8,1546.6 318.3,1546.8 321.8,1546.9 325.3,1547.6 328.8,1547.8 332.3,1547.1 335.8,1548 339.4,1548.8 342.9,1548.4 346.4,1549 349.9,1548.9 353.4,1549.3 356.9,1549.3 360.4,1549.7 364,1550 367.5,1550 371,1550.4 374.5,1550 378,1550.4 381.5,1550 385,1549.8 388.5,1549.6 392.1,1549.5 395.6,1549.4 399.1,1550.6 402.6,1550.9 406.1,1550.8 409.6,1550.8 413.1,1550.6 416.7,1550.8 420.2,1550.8 423.7,1551.1 427.2,1551.6 430.7,1550.8 434.2,1550.5 437.7,1549.6 441.2,1548.6 444.8,1547.4 448.3,1545.5 451.8,1542.3 455.3,1537.3 458.8,1530.1 462.3,1523.5 465.8,1517.9 469.4,1514.5 472.9,1512 476.4,1510.6 479.9,1510.2 483.4,1510.4 486.9,1511.2 490.4,1513.9 493.9,1515.4 497.5,1517.7 501,1520.7 504.5,1523.3 508,1525.3 511.5,1527.4 515,1529.3 518.5,1531.3 522.1,1532.8 525.6,1534.3 529.1,1535.9 532.6,1536.5 536.1,1538.2 539.6,1539.6 543.1,1539.8 546.6,1540.8 550.2,1541.7 553.7,1542.6 557.2,1542.2 560.7,1542.3 564.2,1542.5 567.7,1543.1 571.2,1543.5 574.8,1544.9 578.3,1545 581.8,1546.1 585.3,1546.6 588.8,1546.7 592.3,1547.7 595.8,1548.5 599.3,1548.2 602.9,1548.7 606.4,1548.6 609.9,1548.3 613.4,1548.4 616.9,1549.1 620.4,1549.3 623.9,1549.2 627.5,1548.7 631,1549 634.5,1548.7 638,1548.4 641.5,1548.2"/>
<path d="M114.5,1629.2 118,1629.8 121.5,1629.8 125,1629.7 128.6,1629.1 132.1,1630.1 135.6,1629.8 139.1,1629.5 142.6,1630.2 146.1,1630 149.6,1630.6 153.1,1631.1 156.7,1631.7 160.2,1632 163.7,1631.4 167.2,1631.7 170.7,1632 174.2,1632.5 177.7,1632.5 181.3,1632 184.8,1632.1 188.3,1632.7 191.8,1632.9 195.3,1634.1 198.8,1635 202.3,1634.9 205.8,1635.3 209.4,1636.3 212.9,1637.2 213.8,1637.5 214.6,1638.3 215.5,1638.5 216.4,1639.5 217.3,1639.8 218.1,1640 219,1640.4 219.9,1640.6 220.8,1641.3 221.7,1642.3 222.5,1643.2 223.4,1643.4 224.3,1644.1 225.2,1644.9 226.1,1645.6 226.9,1646.4 227.8,1647.5 228.7,1648.7 229.6,1650.2 230.4,1651.5 231.3,1653.2 232.2,1654.8 233.1,1656.6 234,1658.8 234.8,1661.3 235.7,1664.1 236.6,1667.6 237.5,1671.4 238.3,1675.3 239.2,1679.7 240.1,1684.4 241,1689.8 241.9,1695.7 242.7,1701.6 243.6,1708.2 244.5,1714.8 245.4,1721.5 246.3,1728.2 247.1,1734.6 248,1740.4 248.9,1745.3 249.8,1749.2 250.6,1751.4 251.5,1751.9 252.4,1751.2 253.3,1750 254.2,1748.4 255,1746.1 255.9,1743.6 256.8,1740.6 257.7,1737 258.5,1733.5 259.4,1729.8 260.3,1725.5 261.2,1721.4 262.1,1717.1 262.9,1712.8 263.8,1708.5 264.7,1704.1 265.6,1699.5 266.5,1695.1 267.3,1690.9 268.2,1687 269.1,1683 270,1679.1 270.8,1675.5 271.7,1672.2 272.6,1668.7 273.5,1665.7 274.4,1662.5 275.2,1659.9 276.1,1657.5 277,1654.8 277.9,1652.6 278.8,1650.3 279.6,1647.5 280.5,1646.4 281.4,1644.3 282.3,1642.4 283.1,1640.9 284,1640.4 284.9,1639.3 285.8,1638.4 286.7,1637.7 287.5,1636 288.4,1634.8 289.3,1634.7 290.2,1633.7 293.7,1630.9 297.2,1629 300.7,1627.3 304.2,1625.8 307.7,1624.5 311.3,1623.1 314.8,1623 318.3,1622.4 321.8,1622.4 325.3,1621.7 328.8,1622.4 332.3,1622.2 335.8,1622.4 339.4,1622.5 342.9,1622.8 346.4,1622.9 349.9,1622.9 353.4,1624.1 356.9,1623.6 360.4,1623.3 364,1624 367.5,1624.9 371,1624.8 374.5,1625.6 378,1624.9 381.5,1624.8 385,1625.8 388.5,1625.4 392.1,1625.7 395.6,1625.3 399.1,1625.3 402.6,1625.6 406.1,1625.2 409.6,1625.1 413.1,1625.5 416.7,1626 420.2,1626.4 423.7,1626.3 427.2,1626.4 430.7,1627 434.2,1627.4 437.7,1626.4 441.2,1626.1 444.8,1625.1 448.3,1622.1 451.8,1618.3 455.3,1612.3 458.8,1605 462.3,1599.3 465.8,1594.2 469.4,1590.5 472.9,1587.3 476.4,1586.6 479.9,1585.2 483.4,1586.4 486.9,1587.9 490.4,1589 493.9,1591.3 497.5,1593.2 501,1596 504.5,1598.8 508,1601.5 511.5,1603.9 515,1605.9 518.5,1607.2 522.1,1609.1 525.6,1610.4 529.1,1611.1 532.6,1612.7 536.1,1612.9 539.6,1614.3 543.1,1614.4 546.6,1615.1 550.2,1616.5 553.7,1617.6 557.2,1617.4 560.7,1617.5 564.2,1617.6 567.7,1618.2 571.2,1618.4 574.8,1618.8 578.3,1620 581.8,1621.1 585.3,1621.9 588.8,1622.7 592.3,1622.4 595.8,1623.6 599.3,1624.3 602.9,1623.6 606.4,1623.7 609.9,1624 613.4,1624 616.9,1624.4 620.4,1624.2 623.9,1623.8 627.5,1623.2 631,1622.7 634.5,1622.5 638,1623.1 641.5,1623"/>
<path d="M114.5,1705.2 118,1704.4 121.5,1704.3 125,1704.1 128.6,1704.2 132.1,1703.9 135.6,1704.2 139.1,1704.7 142.6,1705.4 146.1,1705.6 149.6,1705.2 153.1,1704.6 156.7,1705.6 160.2,1706.4 163.7,1706 167.2,1705.5 170.7,1706.3 174.2,1707.2 177.7,1707.4 181.3,1708.2 184.8,1708.9 188.3,1708.6 191.8,1709.3 195.3,1709.5 198.8,1709.2 202.3,1709.9 205.8,1711.1 209.4,1711.5 212.9,1712.6 213.8,1712.3 214.6,1713.4 215.5,1714.4 216.4,1715.1 217.3,1715.1 218.1,1715.2 219,1715 219.9,1715.6 220.8,1716.4 221.7,1716.1 222.5,1717.5 223.4,1718 224.3,1718.5 225.2,1719.3 226.1,1720.2 226.9,1721.2 227.8,1722.2 228.7,1723.3 229.6,1724.6 230.4,1725.6 231.3,1727 232.2,1728.8 233.1,1730.4 234,1732.5 234.8,1734.9 235.7,1737.7 236.6,1740.7 237.5,1744.2 238.3,1747.9 239.2,1752.2 240.1,1756.9 241,1761.8 241.9,1767.3 242.7,1773.1 243.6,1779.1 244.5,1785.4 245.4,1792 246.3,1798.4 247.1,1804.4 248,1809.9 248.9,1814.4 249.8,1818 250.6,1820 251.5,1820.6 252.4,1820.1 253.3,1818.8 254.2,1817.3 255,1815.3 255.9,1812.5 256.8,1809.8 257.7,1806.6 258.5,1803.1 259.4,1799.5 260.3,1795.6 261.2,1791.3 262.1,1787.1 262.9,1782.7 263.8,1778.4 264.7,1774.1 265.6,1770 266.5,1766 267.3,1762.2 268.2,1758.1 269.1,1754.7 270,1750.9 270.8,1747.4 271.7,1744.3 272.6,1741.2 273.5,1738.1 274.4,1735.4 275.2,1732.6 276.1,1730.5 277,1728.2 277.9,1725.9 278.8,1723.8 279.6,1722.3 280.5,1720.8 281.4,1718.6 282.3,1717.8 283.1,1716.5 284,1715.7 284.9,1713.7 285.8,1712.2 286.7,1711.3 287.5,1710.9 288.4,1710.1 289.3,1709.5 290.2,1708.7 293.7,1705.4 297.2,1702.9 300.7,1701 304.2,1698.7 307.7,1697.6 311.3,1696.6 314.8,1696.2 318.3,1696.6 321.8,1696.8 325.3,1696.7 328.8,1696.8 332.3,1697.2 335.8,1697.8 339.4,1698.3 342.9,1698.1 346.4,1698.4 349.9,1699.4 353.4,1698.8 356.9,1699.2 360.4,1698.9 364,1699.2 367.5,1699.5 371,1700.5 374.5,1700.1 378,1700.7 381.5,1700.3 385,1701.1 388.5,1701.3 392.1,1701.8 395.6,1701.8 399.1,1702.4 402.6,1702.3 406.1,1701.7 409.6,1701.6 413.1,1702.1 416.7,1702.8 420.2,1703.3 423.7,1703.2 427.2,1702.7 430.7,1702.2 434.2,1702.2 437.7,1701.9 441.2,1700.3 444.8,1698.9 448.3,1696.4 451.8,1693.1 455.3,1688.2 458.8,1681.2 462.3,1674.7 465.8,1669.7 469.4,1664.5 472.9,1661.6 476.4,1660.2 479.9,1659.1 483.4,1660.5 486.9,1661.8 490.4,1663.6 493.9,1666.6 497.5,1669.6 501,1672.3 504.5,1673.7 508,1675.6 511.5,1677.8 515,1679.7 518.5,1681.8 522.1,1683.9 525.6,1685.7 529.1,1687.4 532.6,1688.8 536.1,1688.9 539.6,1689.8 543.1,1690.6 546.6,1690.9 550.2,1691.2 553.7,1691.6 557.2,1692.1 560.7,1692 564.2,1693 567.7,1694.3 571.2,1694.3 574.8,1695.6 578.3,1695.4 581.8,1696.1 585.3,1696.8 588.8,1697.3 592.3,1698.1 595.8,1698.5 599.3,1699.1 602.9,1699.3 606.4,1699.3 609.9,1699.7 613.4,1700 616.9,1699 620.4,1698.9 623.9,1699 627.5,1698.3 631,1697.9 634.5,1697.5 638,1697.3 641.5,1697.8"/>
<path d="M114.5,1780.2 118,1779.6 121.5,1779.6 125,1780.4 128.6,1780.1 132.1,1780.4 135.6,1780.4 139.1,1779.9 142.6,1780.1 146.1,1780.1 149.6,1779.6 153.1,1779.8 156.7,1780 160.2,1780.8 163.7,1780.5 167.2,1781.3 170.7,1781.4 174.2,1781.8 177.7,1782.7 181.3,1783 184.8,1782.7 188.3,1783.4 191.8,1783.2 195.3,1784 198.8,1784.5 202.3,1785.8 205.8,1787 209.4,1787.1 212.9,1787.8 213.8,1787.8 214.6,1788.3 215.5,1789.3 216.4,1789.3 217.3,1789.7 218.1,1789.9 219,1789.6 219.9,1790.6 220.8,1790.9 221.7,1791.4 222.5,1791.5 223.4,1792.5 224.3,1793.5 225.2,1794 226.1,1794.7 226.9,1795.7 227.8,1797 228.7,1797.8 229.6,1798.9 230.4,1800.5 231.3,1801.9 232.2,1803.5 233.1,1805.3 234,1807.7 234.8,1810.1 235.7,1813 236.6,1815.9 237.5,1819.5 238.3,1823.1 239.2,1827.5 240.1,1831.9 241,1837.1 241.9,1842.5 242.7,1848.4 243.6,1854.4 244.5,1860.7 245.4,1867 246.3,1873.6 247.1,1880 248,1885.3 248.9,1890.2 249.8,1893.6 250.6,1895.6 251.5,1896.1 252.4,1895.5 253.3,1894.6 254.2,1893 255,1891 255.9,1888.4 256.8,1885.6 257.7,1882.1 258.5,1878.3 259.4,1874.6 260.3,1870.9 261.2,1866.8 262.1,1862.6 262.9,1858.4 263.8,1854.1 264.7,1849.7 265.6,1845.7 266.5,1841.7 267.3,1837.8 268.2,1833.9 269.1,1830.1 270,1826.7 270.8,1823.2 271.7,1819.8 272.6,1816.5 273.5,1813.4 274.4,1810.8 275.2,1808.2 276.1,1805.8 277,1803.6 277.9,1801.2 278.8,1799.4 279.6,1797.5 280.5,1795.2 281.4,1793.6 282.3,1792.6 283.1,1791.7 284,1789.6 284.9,1788.3 285.8,1786.9 286.7,1786.1 287.5,1784.9 288.4,1783.8 289.3,1782.6 290.2,1781.5 293.7,1779 297.2,1777.9 300.7,1776.9 304.2,1775.5 307.7,1773.1 311.3,1772.5 314.8,1772.4 318.3,1772.3 321.8,1772.6 325.3,1773 328.8,1773.6 332.3,1772.7 335.8,1773.4 339.4,1773.2 342.9,1774 346.4,1774.6 349.9,1774.9 353.4,1775.3 356.9,1775.3 360.4,1775.7 364,1775.8 367.5,1776.3 371,1776.2 374.5,1775.4 378,1776.1 381.5,1776 385,1776.3 388.5,1776.5 392.1,1775.7 395.6,1776.2 399.1,1776 402.6,1775.6 406.1,1776.6 409.6,1775.9 413.1,1776.3 416.7,1776.9 420.2,1777.1 423.7,1776.4 427.2,1776.1 430.7,1775.9 434.2,1776 437.7,1775.5 441.2,1774.8 444.8,1773.5 448.3,1772 451.8,1768.4 455.3,1762.9 458.8,1756.7 462.3,1750.1 465.8,1744.2 469.4,1739.1 472.9,1737.1 476.4,1735.9 479.9,1736.1 483.4,1736.9 486.9,1738.7 490.4,1740.1 493.9,1741.4 497.5,1743.6 501,1745.4 504.5,1747.9 508,1750.3 511.5,1752.7 515,1754.4 518.5,1755.6 522.1,1757.2 525.6,1759.4 529.1,1761 532.6,1762.3 536.1,1763.8 539.6,1764.8 543.1,1765.9 546.6,1766.6 550.2,1767.6 553.7,1767.4 557.2,1768.1 560.7,1768.7 564.2,1768.9 567.7,1769.1 571.2,1768.9 574.8,1770.4 578.3,1771.1 581.8,1771.1 585.3,1772.1 588.8,1772.6 592.3,1772.9 595.8,1773.5 599.3,1773.7 602.9,1773.3 606.4,1772.7 609.9,1772.5 613.4,1772.4 616.9,1772.2 620.4,1772.9 623.9,1773.3 627.5,1774.2 631,1774.1 634.5,1773.8 638,1774 641.5,1774.2"/>
<path d="M114.5,1854.5 118,1854.1 121.5,1854 125,1854.5 128.6,1855.1 132.1,1855.1 135.6,1854.9 139.1,1854.4 142.6,1855 146.1,1855.5 149.6,1855.9 153.1,1856.1 156.7,1856.6 160.2,1856.3 163.7,1855.5 167.2,1856.5 170.7,1855.9 174.2,1855.8 177.7,1856.4 181.3,1857.1 184.8,1856.8 188.3,1857.3 191.8,1857.2 195.3,1858.3 198.8,1859.4 202.3,1860.5 205.8,1861 209.4,1862.4 212.9,1863.3 213.8,1863 214.6,1862.8 215.5,1862.6 216.4,1863.2 217.3,1863.8 218.1,1864.8 219,1865.4 219.9,1865.7 220.8,1866.1 221.7,1867 222.5,1867.6 223.4,1867.2 224.3,1867.9 225.2,1868.4 226.1,1868.9 226.9,1869.5 227.8,1870.3 228.7,1871.3 229.6,1872.6 230.4,1873.7 231.3,1875.4 232.2,1877.1 233.1,1878.7 234,1880.5 234.8,1882.7 235.7,1885.1 236.6,1888.1 237.5,1891.3 238.3,1894.6 239.2,1898.6 240.1,1902.9 241,1907.5 241.9,1912.5 242.7,1917.7 243.6,1923.3 244.5,1929.2 245.4,1935 246.3,1941.1 247.1,1946.7 248,1951.7 248.9,1956 249.8,1959.3 250.6,1960.9 251.5,1961.4 252.4,1961 253.3,1959.9 254.2,1958.4 255,1956.4 255.9,1954 256.8,1951.6 257.7,1948.7 258.5,1945.4 259.4,1942 260.3,1938.3 261.2,1934.3 262.1,1930.4 262.9,1926.5 263.8,1922.6 264.7,1918.6 265.6,1915 266.5,1911.1 267.3,1907.6 268.2,1903.9 269.1,1900.6 270,1897.3 270.8,1893.9 271.7,1891 272.6,1887.9 273.5,1885.2 274.4,1882.9 275.2,1880.4 276.1,1878 277,1876.1 277.9,1874.2 278.8,1872.4 279.6,1871.1 280.5,1869.1 281.4,1868.2 282.3,1867.1 283.1,1864.7 284,1862.9 284.9,1861.8 285.8,1860.8 286.7,1860.6 287.5,1859.9 288.4,1859.3 289.3,1858.7 290.2,1857.1 293.7,1854.5 297.2,1852.9 300.7,1850.7 304.2,1849.4 307.7,1847.8 311.3,1847.1 314.8,1845.9 318.3,1845.8 321.8,1845.7 325.3,1845.7 328.8,1846.5 332.3,1847.2 335.8,1847.7 339.4,1847.6 342.9,1848.2 346.4,1849 349.9,1849 353.4,1849.1 356.9,1849.4 360.4,1848.9 364,1849.4 367.5,1849.4 371,1850.3 374.5,1850 378,1849.8 381.5,1849.8 385,1849.6 388.5,1850.4 392.1,1851.3 395.6,1851.8 399.1,1851.1 402.6,1850.6 406.1,1850.7 409.6,1850.3 413.1,1851.4 416.7,1852 420.2,1852 423.7,1851.6 427.2,1851.8 430.7,1851.4 434.2,1850.7 437.7,1851 441.2,1849.9 444.8,1848.6 448.3,1846.4 451.8,1843 455.3,1837.2 458.8,1830.7 462.3,1824 465.8,1818.7 469.4,1814.2 472.9,1812.3 476.4,1810.2 479.9,1809.9 483.4,1810 486.9,1812.2 490.4,1814.2 493.9,1817 497.5,1819 501,1820.8 504.5,1823.1 508,1825.6 511.5,1827.8 515,1830.4 518.5,1831.5 522.1,1833 525.6,1834.8 529.1,1835.4 532.6,1837.4 536.1,1837.7 539.6,1838.5 543.1,1839.4 546.6,1840.4 550.2,1841 553.7,1841 557.2,1842 560.7,1842.8 564.2,1843.1 567.7,1844.4 571.2,1845.4 574.8,1846 578.3,1846.9 581.8,1847.4 585.3,1847.1 588.8,1848.1 592.3,1848.3 595.8,1848.2 599.3,1847.9 602.9,1847.9 606.4,1848.6 609.9,1848.6 613.4,1848.5 616.9,1848.7 620.4,1848.5 623.9,1848.7 627.5,1848.3 631,1848.5 634.5,1848 638,1848.3 641.5,1848.3"/>
<path d="M114.5,1929.7 118,1929.2 121.5,1928.9 125,1929.7 128.6,1930.1 132.1,1930.4 135.6,1929.8 139.1,1930.6 142.6,1930.1 146.1,1930.7 149.6,1930.5 153.1,1930.2 156.7,1930.2 160.2,1929.9 163.7,1930 167.2,1929.9 170.7,1930.8 174.2,1932 177.7,1932.3 181.3,1932 184.8,1932.4 188.3,1932.4 191.8,1932.7 195.3,1934 198.8,1934.8 202.3,1934.9 205.8,1935.2 209.4,1936.1 212.9,1937.1 213.8,1938.6 214.6,1938.4 215.5,1939.7 216.4,1939.3 217.3,1939.9 218.1,1940.7 219,1941.3 219.9,1941.3 220.8,1942.1 221.7,1942.1 222.5,1943.3 223.4,1944.2 224.3,1945 225.2,1945.9 226.1,1947 226.9,1947.7 227.8,1948.8 228.7,1950 229.6,1951.3 230.4,1953 231.3,1954.7 232.2,1956.5 233.1,1958.6 234,1961 234.8,1963.7 235.7,1966.8 236.6,1970.4 237.5,1974.3 238.3,1978.9 239.2,1983.8 240.1,1988.8 241,1994.6 241.9,2000.8 242.7,2007.6 243.6,2014.3 244.5,2021.7 245.4,2028.9 246.3,2036.1 247.1,2043.2 248,2049.7 248.9,2055.1 249.8,2058.8 250.6,2060.9 251.5,2061.5 252.4,2060.8 253.3,2059.5 254.2,2057.9 255,2055.5 255.9,2052.6 256.8,2049.3 257.7,2045.6 258.5,2041.5 259.4,2037.3 260.3,2033 261.2,2028.5 262.1,2023.8 262.9,2018.9 263.8,2014.4 264.7,2009.7 265.6,2004.9 266.5,2000.1 267.3,1995.7 268.2,1991.6 269.1,1987.3 270,1983.3 270.8,1979.2 271.7,1975.4 272.6,1971.8 273.5,1968.4 274.4,1965.3 275.2,1962.2 276.1,1959.4 277,1956.7 277.9,1954.4 278.8,1952.3 279.6,1950.1 280.5,1948 281.4,1946.6 282.3,1944.4 283.1,1943.4 284,1941.9 284.9,1940 285.8,1939.1 286.7,1937.8 287.5,1937.4 288.4,1936.6 289.3,1935.5 290.2,1934.2 293.7,1931.8 297.2,1929.3 300.7,1927.6 304.2,1925.3 307.7,1924.2 311.3,1922.7 314.8,1922.3 318.3,1922.5 321.8,1922.7 325.3,1922.4 328.8,1922.8 332.3,1922.3 335.8,1922.2 339.4,1922.4 342.9,1922.7 346.4,1923.3 349.9,1924.2 353.4,1924.6 356.9,1925.4 360.4,1924.5 364,1924.6 367.5,1924.4 371,1924.6 374.5,1925 378,1925.4 381.5,1925.2 385,1925.7 388.5,1925.2 392.1,1925.2 395.6,1926.2 399.1,1926.5 402.6,1925.9 406.1,1926.2 409.6,1926.5 413.1,1926.4 416.7,1927.3 420.2,1927.7 423.7,1926.8 427.2,1927.4 430.7,1927.3 434.2,1927.3 437.7,1927.3 441.2,1926.3 444.8,1924 448.3,1921.6 451.8,1917.5 455.3,1911.9 458.8,1904.9 462.3,1899.3 465.8,1894.2 469.4,1889.6 472.9,1886.4 476.4,1885.1 479.9,1884.6 483.4,1885.8 486.9,1887.8 490.4,1889.7 493.9,1891.2 497.5,1893.4 501,1896.3 504.5,1897.9 508,1900.6 511.5,1903.3 515,1905 518.5,1906.1 522.1,1907.3 525.6,1909.4 529.1,1910.4 532.6,1912.4 536.1,1913.4 539.6,1914.5 543.1,1915 546.6,1914.9 550.2,1915.1 553.7,1916.7 557.2,1917.7 560.7,1918.4 564.2,1918.4 567.7,1919.7 571.2,1919.3 574.8,1920.1 578.3,1921.3 581.8,1921.6 585.3,1922.3 588.8,1922.1 592.3,1923 595.8,1923.6 599.3,1923.7 602.9,1923.8 606.4,1924.4 609.9,1924.4 613.4,1924.7 616.9,1924.8 620.4,1925 623.9,1924 627.5,1924.2 631,1924.5 634.5,1924.1 638,1923.8 641.5,1924.6"/>
<path d="M114.5,2004 118,2004.2 121.5,2003.7 125,2004 128.6,2004.7 132.1,2004.3 135.6,2004.5 139.1,2004.7 142.6,2004.7 146.1,2004.9 149.6,2005.6 153.1,2006 156.7,2005.4 160.2,2005.6 163.7,2005.3 167.2,2005.1 170.7,2005.6 174.2,2006.5 177.7,2007.4 181.3,2007.9 184.8,2008.8 188.3,2009.2 191.8,2009 195.3,2009.2 198.8,2009.2 202.3,2010.1 205.8,2011.2 209.4,2011.7 212.9,2012.9 213.8,2013.2 214.6,2012.9 215.5,2013.9 216.4,2014.1 217.3,2013.9 218.1,2014.1 219,2014.7 219.9,2015.3 220.8,2016.8 221.7,2017.6 222.5,2017.8 223.4,2018.8 224.3,2019.4 225.2,2020.1 226.1,2020.8 226.9,2021.6 227.8,2022.6 228.7,2023.8 229.6,2025 230.4,2026.3 231.3,2028.1 232.2,2030 233.1,2032.1 234,2034.6 234.8,2037.4 235.7,2040.2 236.6,2043.6 237.5,2047.2 238.3,2051.1 239.2,2055.6 240.1,2060.6 241,2066.1 241.9,2071.9 242.7,2078.3 243.6,2084.9 244.5,2091.6 245.4,2098.5 246.3,2105.5 247.1,2112.1 248,2117.9 248.9,2123.2 249.8,2126.8 250.6,2129 251.5,2129.5 252.4,2128.9 253.3,2127.7 254.2,2126 255,2123.8 255.9,2120.9 256.8,2117.8 257.7,2114.4 258.5,2110.7 259.4,2106.5 260.3,2102.4 261.2,2098.2 262.1,2093.6 262.9,2088.9 263.8,2084.6 264.7,2079.9 265.6,2075.5 266.5,2071.3 267.3,2066.9 268.2,2062.5 269.1,2058.6 270,2054.8 270.8,2051 271.7,2047.6 272.6,2044.2 273.5,2041.2 274.4,2038.3 275.2,2035.5 276.1,2032.8 277,2030.3 277.9,2027.8 278.8,2025.7 279.6,2022.9 280.5,2021 281.4,2020.1 282.3,2018.3 283.1,2016.7 284,2015.2 284.9,2014.5 285.8,2013.6 286.7,2012.3 287.5,2011.9 288.4,2010.8 289.3,2009.6 290.2,2008.9 293.7,2006.1 297.2,2003.7 300.7,2001.8 304.2,1999.6 307.7,1998.3 311.3,1996.6 314.8,1996 318.3,1996.5 321.8,1996.8 325.3,1996.3 328.8,1996.4 332.3,1997.6 335.8,1997.8 339.4,1997.6 342.9,1997.8 346.4,1998.9 349.9,1998.9 353.4,1999.8 356.9,1999.6 360.4,1999 364,1999.6 367.5,1999.1 371,1998.9 374.5,1999.7 378,1999.4 381.5,2000.5 385,2000.9 388.5,2001.4 392.1,2001.3 395.6,2000.8 399.1,2001.3 402.6,2001.1 406.1,2001.7 409.6,2002.3 413.1,2001.8 416.7,2001.4 420.2,2002.2 423.7,2002.8 427.2,2002.5 430.7,2001.9 434.2,2001.7 437.7,2001.6 441.2,2001.3 444.8,2000.1 448.3,1996.7 451.8,1993.3 455.3,1988.2 458.8,1981.2 462.3,1975 465.8,1968.8 469.4,1964.5 472.9,1961.4 476.4,1960.4 479.9,1960.2 483.4,1960.9 486.9,1962.7 490.4,1964.8 493.9,1966.1 497.5,1968.3 501,1971.3 504.5,1974.4 508,1976.5 511.5,1978.4 515,1980 518.5,1981.2 522.1,1982.8 525.6,1985 529.1,1986.4 532.6,1987.5 536.1,1987.8 539.6,1989.2 543.1,1990.4 546.6,1990.5 550.2,1990.8 553.7,1992.1 557.2,1992 560.7,1992.5 564.2,1993.8 567.7,1994.2 571.2,1994.4 574.8,1995.4 578.3,1996.2 581.8,1997.1 585.3,1997.3 588.8,1998.3 592.3,1998.6 595.8,1998.2 599.3,1998.4 602.9,1999 606.4,1999.3 609.9,1999.4 613.4,1999 616.9,1998.9 620.4,1998.7 623.9,1998.8 627.5,1998.8 631,1998 634.5,1997.9 638,1997.9 641.5,1998.8"/>
<path d="M114.5,2080.1 118,2079.9 121.5,2079.4 125,2079.4 128.6,2079.3 132.1,2080 135.6,2079.8 139.1,2080.4 142.6,2080.8 146.1,2080.9 149.6,2081 153.1,2081 156.7,2081.6 160.2,2082 163.7,2082.4 167.2,2082.8 170.7,2083.1 174.2,2082.2 177.7,2082.8 181.3,2082.5 184.8,2083.3 188.3,2082.9 191.8,2084.2 195.3,2084 198.8,2084.5 202.3,2085 205.8,2086.1 209.4,2086.9 212.9,2088.1 213.8,2088.8 214.6,2089.1 215.5,2090 216.4,2090.4 217.3,2090.7 218.1,2090.7 219,2091.5 219.9,2091.5 220.8,2091.6 221.7,2092.1 222.5,2093.1 223.4,2094.2 224.3,2095.1 225.2,2096 226.1,2096.7 226.9,2097.9 227.8,2099 228.7,2100.1 229.6,2101.4 230.4,2102.9 231.3,2104.7 232.2,2106.7 233.1,2109.1 234,2111.4 234.8,2114.1 235.7,2117.5 236.6,2120.8 237.5,2124.7 238.3,2129.2 239.2,2133.8 240.1,2139 241,2145 241.9,2151.1 242.7,2157.9 243.6,2164.8 244.5,2171.9 245.4,2179.6 246.3,2187.1 247.1,2194.3 248,2200.6 248.9,2205.7 249.8,2209.8 250.6,2212 251.5,2212.3 252.4,2211.7 253.3,2210.5 254.2,2208.5 255,2206.1 255.9,2203.2 256.8,2200.3 257.7,2196.6 258.5,2192.8 259.4,2188.3 260.3,2184 261.2,2179.5 262.1,2174.8 262.9,2169.8 263.8,2165.1 264.7,2160.1 265.6,2155.6 266.5,2150.9 267.3,2146.3 268.2,2142 269.1,2137.8 270,2133.6 270.8,2129.6 271.7,2126 272.6,2122.3 273.5,2118.8 274.4,2115.7 275.2,2112.5 276.1,2110 277,2107.5 277.9,2105.1 278.8,2102.6 279.6,2100.8 280.5,2098.3 281.4,2096.9 282.3,2095.2 283.1,2093 284,2091.3 284.9,2090.3 285.8,2088.6 286.7,2087.5 287.5,2086.5 288.4,2086.1 289.3,2085.1 290.2,2084.2 293.7,2081.8 297.2,2079.7 300.7,2078.3 304.2,2076.6 307.7,2075.1 311.3,2073.2 314.8,2072.2 318.3,2072.5 321.8,2072.7 325.3,2072.5 328.8,2072 332.3,2072.6 335.8,2073.4 339.4,2073.3 342.9,2073.1 346.4,2073.7 349.9,2073.5 353.4,2074.4 356.9,2074.2 360.4,2074.7 364,2074.9 367.5,2074.5 371,2075.5 374.5,2076.2 378,2076.8 381.5,2076.6 385,2076.6 388.5,2075.9 392.1,2075.9 395.6,2076.5 399.1,2076.4 402.6,2076.7 406.1,2076.4 409.6,2076.2 413.1,2076 416.7,2076.6 420.2,2077.2 423.7,2076.9 427.2,2077.2 430.7,2076.9 434.2,2076.8 437.7,2076.1 441.2,2074.6 444.8,2073.8 448.3,2072 451.8,2068 455.3,2062.7 458.8,2055.3 462.3,2049.1 465.8,2044.2 469.4,2040.1 472.9,2037.9 476.4,2035.7 479.9,2035.9 483.4,2036.8 486.9,2037.4 490.4,2039.8 493.9,2041.8 497.5,2043.6 501,2046.6 504.5,2048.1 508,2051.3 511.5,2052.8 515,2054.5 518.5,2056.1 522.1,2057.5 525.6,2059.6 529.1,2060.5 532.6,2061.3 536.1,2062.8 539.6,2062.9 543.1,2064.5 546.6,2064.6 550.2,2065 553.7,2066.4 557.2,2066.6 560.7,2066.8 564.2,2068 567.7,2069.4 571.2,2069.6 574.8,2070.7 578.3,2071.2 581.8,2071.8 585.3,2071.6 588.8,2071.7 592.3,2073 595.8,2073.2 599.3,2073.3 602.9,2074.1 606.4,2073.3 609.9,2073.1 613.4,2073.8 616.9,2073.7 620.4,2073.3 623.9,2073.3 627.5,2073.1 631,2073.1 634.5,2072.8 638,2072.9 641.5,2073"/>
<path d="M114.5,2154.2 118,2154.9 121.5,2154.2 125,2154.3 128.6,2154.7 132.1,2155.4 135.6,2155.6 139.1,2155.4 142.6,2156.1 146.1,2155.3 149.6,2155.3 153.1,2155 156.7,2154.6 160.2,2155.3 163.7,2155.7 167.2,2155.6 170.7,2155.3 174.2,2155.5 177.7,2155.6 181.3,2157 184.8,2157.9 188.3,2158.1 191.8,2158.7 195.3,2159.9 198.8,2160 202.3,2161.3 205.8,2161.9 209.4,2162.7 212.9,2164.2 213.8,2164.6 214.6,2164.7 215.5,2165.4 216.4,2165.3 217.3,2164.9 218.1,2165.8 219,2166.1 219.9,2166.6 220.8,2166.9 221.7,2167.3 222.5,2167.8 223.4,2169 224.3,2170 225.2,2171 226.1,2171.6 226.9,2172.9 227.8,2173.9 228.7,2175.2 229.6,2176.5 230.4,2178.1 231.3,2179.7 232.2,2181.8 233.1,2183.9 234,2186.1 234.8,2188.9 235.7,2192.1 236.6,2195.6 237.5,2199.3 238.3,2203.6 239.2,2208.1 240.1,2213.3 241,2219.2 241.9,2225.5 242.7,2232 243.6,2238.9 244.5,2246 245.4,2253.6 246.3,2260.7 247.1,2267.6 248,2274 248.9,2279.1 249.8,2283.2 250.6,2285.3 251.5,2286 252.4,2285.4 253.3,2284.1 254.2,2282.6 255,2280 255.9,2277.3 256.8,2274.2 257.7,2270.4 258.5,2266.6 259.4,2262.1 260.3,2257.6 261.2,2253 262.1,2248.2 262.9,2243.7 263.8,2239.1 264.7,2234.3 265.6,2229.4 266.5,2225 267.3,2220.5 268.2,2216.2 269.1,2212 270,2207.7 270.8,2203.8 271.7,2200.1 272.6,2196.6 273.5,2193.3 274.4,2190.4 275.2,2187.3 276.1,2184.3 277,2182 277.9,2179.4 278.8,2177.1 279.6,2174.8 280.5,2172.4 281.4,2170.3 282.3,2169.2 283.1,2167.8 284,2166.6 284.9,2164.8 285.8,2163.1 286.7,2162.2 287.5,2161.1 288.4,2160.8 289.3,2159.8 290.2,2158.3 293.7,2155.9 297.2,2154 300.7,2152.2 304.2,2150.6 307.7,2148.9 311.3,2148.1 314.8,2148 318.3,2148 321.8,2147.6 325.3,2147.9 328.8,2147.5 332.3,2147.3 335.8,2146.8 339.4,2147.3 342.9,2148.5 346.4,2148.3 349.9,2149.2 353.4,2149.4 356.9,2150.1 360.4,2149.4 364,2148.9 367.5,2149.3 371,2149.9 374.5,2150.1 378,2150.6 381.5,2150.7 385,2150.6 388.5,2150.7 392.1,2151.1 395.6,2151.3 399.1,2152.1 402.6,2151.8 406.1,2152 409.6,2151.3 413.1,2151.2 416.7,2151 420.2,2150.8 423.7,2151.8 427.2,2152.6 430.7,2152.4 434.2,2152.5 437.7,2151.7 441.2,2150.7 444.8,2149.5 448.3,2147.4 451.8,2143.5 455.3,2138.6 458.8,2131.5 462.3,2125.5 465.8,2119.7 469.4,2115.9 472.9,2113.7 476.4,2112.6 479.9,2112.1 483.4,2111.9 486.9,2112.7 490.4,2114 493.9,2115.9 497.5,2118.5 501,2120.7 504.5,2123 508,2125.5 511.5,2128.4 515,2130.7 518.5,2131.8 522.1,2132.7 525.6,2134.8 529.1,2136 532.6,2137.8 536.1,2138 539.6,2139 543.1,2139 546.6,2140.7 550.2,2141.1 553.7,2141.4 557.2,2141.5 560.7,2142.6 564.2,2143.9 567.7,2144.5 571.2,2144.7 574.8,2145.3 578.3,2146 581.8,2147 585.3,2147.1 588.8,2147.8 592.3,2147.8 595.8,2147.8 599.3,2148.3 602.9,2149 606.4,2149.1 609.9,2149.4 613.4,2149.8 616.9,2149.3 620.4,2148.6 623.9,2148 627.5,2148.8 631,2149.4 634.5,2149.8 638,2149.5 641.5,2148.7"/>
</g>
<rect x="115" y="1254.5" width="526.5" height="1050.8" fill="none" stroke="#000" stroke-width="2"/>
<path d="M115,1404h11M115,1554h11M115,1704h11M115,1854h11M115,2004h11M115,2154h11" stroke="#000" stroke-width="2" fill="none"/>
<text x="39.2" y="1267.6" font-size="39" fill="#000">12</text>
<text x="38.7" y="1417.6" font-size="39" fill="#000">10</text>
<text x="60.6" y="1567.6" font-size="39" fill="#000">8</text>
<text x="60.6" y="1717.6" font-size="39" fill="#000">6</text>
<text x="60.1" y="1867.6" font-size="39" fill="#000">4</text>
<text x="60.9" y="2017.6" font-size="39" fill="#000">2</text>
<text x="60.4" y="2167.6" font-size="39" fill="#000">0</text>
<text x="47.9" y="2317.6" font-size="39" fill="#000">-2</text>
<text x="81.7" y="2362.5" font-size="39" fill="#000">700</text>
<text x="257.4" y="2362.5" font-size="39" fill="#000">710</text>
<text x="433.1" y="2362.5" font-size="39" fill="#000">720</text>
<text x="608.7" y="2362.5" font-size="39" fill="#000">730</text>
<text x="211.2" y="2416" font-size="38.6" fill="#000">Photon energy (eV)</text>
<text transform="translate(36.2,1789.4) rotate(-90)" x="-224.5" y="0" font-size="38.6">XMCD intensity (arb.units)</text>
<path d="M577.8,1373.3V2190.3 M566,2170.3L577.8,2190.3L589.6,2170.3" stroke="#f00" stroke-width="1.7" fill="none"/>
<text x="146.8" y="1310.4" font-size="33.5" fill="#000">(b)</text>
<text x="492.1" y="1315.4" font-size="42" fill="#000">0.25nm</text>
<text x="459.3" y="1361.9" font-size="45" fill="#000">Interface</text>
<text x="422.6" y="2233.8" font-size="45" fill="#000">Inner layer</text>
<text x="518.4" y="2286.9" font-size="42" fill="#000">2.5nm</text>
<text x="196.7" y="1444.3" font-size="45">Fe <tspan font-style="italic">L</tspan><tspan font-size="29.7" dy="9.9">3</tspan></text>
<text x="441.5" y="1415.8" font-size="45">Fe <tspan font-style="italic">L</tspan><tspan font-size="29.7" dy="9.9">2</tspan></text>
<path d="M1122.6,131.2L1151.1,169.6H1132.9V232H1113.3V169.6H1094.5Z" fill="#000"/>
<path d="M1132.9,211.3H1149.3V230.3M1113.3,230.3H1204.5" fill="none" stroke="#000" stroke-width="3"/>
<text x="1040.1" y="188.4" font-size="44" font-style="italic" fill="#000">H</text>
<text x="1170.1" y="187" font-size="37.5" font-family="'DejaVu Serif', serif" font-style="italic" fill="#000">θ</text>
<text x="1194.4" y="197.8" font-size="29" fill="#000">i</text>
<text x="1202.4" y="188.4" font-size="44" fill="#000">=90</text>
<text x="1277.2" y="172.7" font-size="32" fill="#000">o</text>
<path d="M989.8,266.2H1279.4" stroke="#000" stroke-width="8.3"/>
<circle cx="989.8" cy="265.7" r="18.3" fill="url(#atom)"/>
<circle cx="1047.7" cy="265.7" r="18.3" fill="url(#atom)"/>
<circle cx="1105.6" cy="265.7" r="18.3" fill="url(#atom)"/>
<circle cx="1163.4" cy="265.7" r="18.3" fill="url(#atom)"/>
<circle cx="1221.3" cy="265.7" r="18.3" fill="url(#atom)"/>
<circle cx="1279.4" cy="265.7" r="18.3" fill="url(#atom)"/>
<text x="881.7" y="277.5" font-size="46" fill="#000">Gr</text>
<rect x="968.4" y="301.9" width="328.6" height="126.7" fill="#ffc000"/>
<text x="1074.5" y="373.3" font-size="46" fill="#000">FePd</text>
<text x="1330.2" y="284.6" font-size="44" fill="#000">[001]</text>
<text x="1441.3" y="415.8" font-size="44" fill="#000">[110]</text>
<g fill="none" stroke="#000" stroke-width="3.8" stroke-linecap="round" stroke-linejoin="miter">
<path d="M1360.9,315.4V411.8H1435.3"/>
<path d="M1348.7,337.9L1360.9,314.4L1373.1,337.9"/>
<path d="M1413.8,400.3L1436.3,411.8L1413.8,423.3"/>
</g>
<path d="M1078.4,1496.2L1070.5,1482.2L1169.2,1424.6L1161,1407.6L1207.7,1412.9L1189,1456.4L1179.7,1441.2Z" fill="#000"/>
<path d="M1078.4,1498H1204.7" stroke="#000" stroke-width="3.5"/>
<path d="M1127.3,1496.5A48.5,48.5 0 0 0 1120.4,1472.3" fill="none" stroke="#000" stroke-width="2.2"/>
<text x="1072.2" y="1421.9" font-size="44" font-style="italic" fill="#000">H</text>
<text x="1209.7" y="1470.5" font-size="37.5" font-family="'DejaVu Serif', serif" font-style="italic" fill="#000">θ</text>
<text x="1233.8" y="1480.5" font-size="29" fill="#000">i</text>
<text x="1240.5" y="1470.9" font-size="44" fill="#000">=30</text>
<text x="1314.2" y="1456" font-size="32" fill="#000">o</text>
<path d="M986.7,1537.5H1275.1" stroke="#000" stroke-width="8.3"/>
<circle cx="986.7" cy="1537" r="18.3" fill="url(#atom)"/>
<circle cx="1044.4" cy="1537" r="18.3" fill="url(#atom)"/>
<circle cx="1101.6" cy="1537" r="18.3" fill="url(#atom)"/>
<circle cx="1159.8" cy="1537" r="18.3" fill="url(#atom)"/>
<circle cx="1217.4" cy="1537" r="18.3" fill="url(#atom)"/>
<circle cx="1275.1" cy="1537" r="18.3" fill="url(#atom)"/>
<text x="883" y="1539.5" font-size="46" fill="#000">Gr</text>
<rect x="963.6" y="1566.2" width="329" height="126.8" fill="#ffc000"/>
<text x="1075.1" y="1645" font-size="46" fill="#000">FePd</text>
<text x="1338.8" y="1556" font-size="44" fill="#000">[001]</text>
<text x="1450.3" y="1688" font-size="44" fill="#000">[110]</text>
<g fill="none" stroke="#000" stroke-width="3.8" stroke-linecap="round" stroke-linejoin="miter">
<path d="M1370.3,1587.8V1684.2H1443.2"/>
<path d="M1358.1,1610.3L1370.3,1586.8L1382.5,1610.3"/>
<path d="M1421.7,1672.7L1444.2,1684.2L1421.7,1695.7"/>
</g>
<rect x="701.5" y="504" width="987.5" height="23.8" fill="#c55a11"/>
<rect x="701.3" y="901" width="987.5" height="23" fill="#c55a11"/>
<rect x="704" y="536" width="231.2" height="132" fill="#f4b183"/>
<rect x="938.8" y="536" width="171.2" height="132" fill="#f4b183"/>
<rect x="1113.6" y="536" width="172.1" height="132" fill="#f4b183"/>
<rect x="1290" y="536" width="220.7" height="132" fill="#f4b183"/>
<rect x="1514.1" y="536" width="174.4" height="132" fill="#f4b183"/>
<rect x="704" y="678.3" width="231.2" height="98.5" fill="#fbe5d6"/>
<rect x="938.8" y="678.3" width="171.2" height="98.5" fill="#fbe5d6"/>
<rect x="1113.6" y="678.3" width="172.1" height="98.5" fill="#fbe5d6"/>
<rect x="1290" y="678.3" width="220.7" height="98.5" fill="#fbe5d6"/>
<rect x="1514.1" y="678.3" width="174.4" height="98.5" fill="#fbe5d6"/>
<rect x="704" y="780.8" width="231.2" height="101.2" fill="#fbe5d6"/>
<rect x="938.8" y="780.8" width="171.2" height="101.2" fill="#fbe5d6"/>
<rect x="1113.6" y="780.8" width="172.1" height="101.2" fill="#fbe5d6"/>
<rect x="1290" y="780.8" width="220.7" height="101.2" fill="#fbe5d6"/>
<rect x="1514.1" y="780.8" width="174.4" height="101.2" fill="#fbe5d6"/>
<text x="745.1" y="621.2" font-size="40" font-family="'DejaVu Serif', serif" font-style="italic" fill="#000">θ</text>
<text x="775.5" y="631" font-size="29.5" fill="#000">i</text>
<text x="795.2" y="621.6" font-size="45.5" fill="#000">= 90</text>
<text x="883.1" y="604.8" font-size="30" fill="#000">o</text>
<text x="998" y="593.1" font-size="46"><tspan font-style="italic">M</tspan><tspan font-size="28" dy="10.2">s</tspan></text>
<text x="986.5" y="647.4" font-size="46">(μ<tspan font-size="28" dy="9.4">B</tspan><tspan dy="-9.4">)</tspan></text>
<text x="1177.6" y="593.1" font-size="46"><tspan font-style="italic">M</tspan><tspan font-size="28" dy="10.2">l</tspan></text>
<text x="1161.7" y="647.4" font-size="46">(μ<tspan font-size="28" dy="9.4">B</tspan><tspan dy="-9.4">)</tspan></text>
<text x="1355" y="593.1" font-size="46"><tspan font-style="italic">M</tspan><tspan font-size="28" dy="10.2">total</tspan></text>
<text x="1362.4" y="647.4" font-size="46">(μ<tspan font-size="28" dy="9.4">B</tspan><tspan dy="-9.4">)</tspan></text>
<text x="1547.7" y="620.2" font-size="46" font-style="italic" fill="#000">M</text>
<text x="1584.8" y="630.6" font-size="28" fill="#000">l</text>
<text x="1591.9" y="620.2" font-size="44" fill="#000">/</text>
<text x="1604.8" y="620.2" font-size="46" font-style="italic" fill="#000">M</text>
<text x="1641" y="630.3" font-size="28" fill="#000">s</text>
<text x="724.2" y="741.7" font-size="45" fill="#000">Interface</text>
<text x="993" y="741.7" font-size="45" fill="#000">2.3</text>
<text x="1156.1" y="741.7" font-size="45" fill="#000">0.32</text>
<text x="1356.6" y="741.7" font-size="45" fill="#000">2.62</text>
<text x="1557.2" y="741.7" font-size="44.5" font-weight="bold" fill="#f00">0.14</text>
<text x="724.2" y="847.2" font-size="45" fill="#000">Inner</text>
<text x="993.1" y="847.2" font-size="45" fill="#000">2.7</text>
<text x="1156" y="847.2" font-size="45" fill="#000">0.16</text>
<text x="1356.4" y="847.2" font-size="45" fill="#000">2.86</text>
<text x="1557.9" y="847.2" font-size="44.5" font-weight="bold" fill="#000">0.06</text>
<rect x="710.6" y="1746.5" width="987.4" height="23.2" fill="#c55a11"/>
<rect x="704" y="2152.2" width="988" height="23.3" fill="#c55a11"/>
<rect x="711.5" y="1783" width="230.7" height="135.1" fill="#f4b183"/>
<rect x="946" y="1783" width="171.3" height="135.1" fill="#f4b183"/>
<rect x="1121" y="1783" width="172.4" height="135.1" fill="#f4b183"/>
<rect x="1296.5" y="1783" width="221.3" height="135.1" fill="#f4b183"/>
<rect x="1521.5" y="1783" width="173.9" height="135.1" fill="#f4b183"/>
<rect x="711.5" y="1922" width="230.7" height="104" fill="#fbe5d6"/>
<rect x="946" y="1922" width="171.3" height="104" fill="#fbe5d6"/>
<rect x="1121" y="1922" width="172.4" height="104" fill="#fbe5d6"/>
<rect x="1296.5" y="1922" width="221.3" height="104" fill="#fbe5d6"/>
<rect x="1521.5" y="1922" width="173.9" height="104" fill="#fbe5d6"/>
<rect x="711.5" y="2030.5" width="230.7" height="103.5" fill="#fbe5d6"/>
<rect x="946" y="2030.5" width="171.3" height="103.5" fill="#fbe5d6"/>
<rect x="1121" y="2030.5" width="172.4" height="103.5" fill="#fbe5d6"/>
<rect x="1296.5" y="2030.5" width="221.3" height="103.5" fill="#fbe5d6"/>
<rect x="1521.5" y="2030.5" width="173.9" height="103.5" fill="#fbe5d6"/>
<text x="753.4" y="1865.7" font-size="40" font-family="'DejaVu Serif', serif" font-style="italic" fill="#000">θ</text>
<text x="784.1" y="1875.3" font-size="29" fill="#000">i</text>
<text x="803.9" y="1866" font-size="45.5" fill="#000">= 30</text>
<text x="890.8" y="1851.7" font-size="29" font-family="'Liberation Serif', 'Times New Roman', serif" fill="#000">o</text>
<text x="1005.3" y="1838.9" font-size="46"><tspan font-style="italic">M</tspan><tspan font-size="28" dy="10.2">s</tspan></text>
<text x="993.7" y="1891.3" font-size="46">(μ<tspan font-size="28" dy="9.4">B</tspan><tspan dy="-9.4">)</tspan></text>
<text x="1185.2" y="1838.9" font-size="46"><tspan font-style="italic">M</tspan><tspan font-size="28" dy="10.2">l</tspan></text>
<text x="1169.3" y="1891.3" font-size="46">(μ<tspan font-size="28" dy="9.4">B</tspan><tspan dy="-9.4">)</tspan></text>
<text x="1361.8" y="1838.9" font-size="46"><tspan font-style="italic">M</tspan><tspan font-size="28" dy="10.2">total</tspan></text>
<text x="1369.2" y="1891.3" font-size="46">(μ<tspan font-size="28" dy="9.4">B</tspan><tspan dy="-9.4">)</tspan></text>
<text x="1554.8" y="1866" font-size="46" font-style="italic" fill="#000">M</text>
<text x="1592" y="1876.4" font-size="28" fill="#000">l</text>
<text x="1599" y="1866" font-size="44" fill="#000">/</text>
<text x="1611.9" y="1866" font-size="46" font-style="italic" fill="#000">M</text>
<text x="1648.2" y="1876.1" font-size="28" fill="#000">s</text>
<text x="731.5" y="1990.5" font-size="45" fill="#000">Interface</text>
<text x="999.8" y="1990.5" font-size="45" fill="#000">1.1</text>
<text x="1163.6" y="1990.5" font-size="45" fill="#000">0.11</text>
<text x="1362.7" y="1990.5" font-size="45" fill="#000">1.21</text>
<text x="1565.1" y="1990.5" font-size="44.5" font-weight="bold" fill="#f00">0.09</text>
<text x="731.5" y="2099.2" font-size="45" fill="#000">Inner</text>
<text x="999.8" y="2099.2" font-size="45" fill="#000">1.7</text>
<text x="1163.6" y="2099.2" font-size="45" fill="#000">0.11</text>
<text x="1362.7" y="2099.2" font-size="45" fill="#000">1.81</text>
<text x="1565.2" y="2099.2" font-size="44.5" font-weight="bold" fill="#000">0.07</text>
</svg></body></html>
